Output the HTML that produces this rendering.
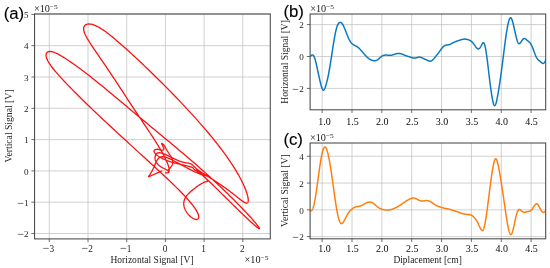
<!DOCTYPE html><html><head><meta charset="utf-8"><title>Figure</title><style>html,body{margin:0;padding:0;background:#fff;overflow:hidden}svg{display:block}</style></head><body><svg width="550" height="268" viewBox="0 0 550 268"><rect width="550" height="268" fill="#fff"/><defs><clipPath id="ca"><rect x="34.57" y="13.95" width="235.70" height="224.95"/></clipPath><clipPath id="cb"><rect x="310.1" y="14.0" width="235.60" height="95.80"/></clipPath><clipPath id="cc"><rect x="310.1" y="143.0" width="235.60" height="95.80"/></clipPath></defs>
<line x1="49.30" x2="49.30" y1="13.95" y2="238.9" stroke="#bdbdbd" stroke-width="0.7"/>
<line x1="49.30" x2="49.30" y1="238.9" y2="242.1" stroke="#484848" stroke-width="0.8"/>
<text x="48.40" y="251.50" font-size="9.3" text-anchor="middle" font-family='"Liberation Serif", serif' fill="#222222" ><tspan font-size="12" dy="0.7">−</tspan><tspan dy="-0.7">3</tspan></text>
<line x1="88.00" x2="88.00" y1="13.95" y2="238.9" stroke="#bdbdbd" stroke-width="0.7"/>
<line x1="88.00" x2="88.00" y1="238.9" y2="242.1" stroke="#484848" stroke-width="0.8"/>
<text x="87.10" y="251.50" font-size="9.3" text-anchor="middle" font-family='"Liberation Serif", serif' fill="#222222" ><tspan font-size="12" dy="0.7">−</tspan><tspan dy="-0.7">2</tspan></text>
<line x1="126.70" x2="126.70" y1="13.95" y2="238.9" stroke="#bdbdbd" stroke-width="0.7"/>
<line x1="126.70" x2="126.70" y1="238.9" y2="242.1" stroke="#484848" stroke-width="0.8"/>
<text x="125.80" y="251.50" font-size="9.3" text-anchor="middle" font-family='"Liberation Serif", serif' fill="#222222" ><tspan font-size="12" dy="0.7">−</tspan><tspan dy="-0.7">1</tspan></text>
<line x1="165.40" x2="165.40" y1="13.95" y2="238.9" stroke="#bdbdbd" stroke-width="0.7"/>
<line x1="165.40" x2="165.40" y1="238.9" y2="242.1" stroke="#484848" stroke-width="0.8"/>
<text x="165.00" y="251.50" font-size="9.3" text-anchor="middle" font-family='"Liberation Serif", serif' fill="#222222" >0</text>
<line x1="204.10" x2="204.10" y1="13.95" y2="238.9" stroke="#bdbdbd" stroke-width="0.7"/>
<line x1="204.10" x2="204.10" y1="238.9" y2="242.1" stroke="#484848" stroke-width="0.8"/>
<text x="203.70" y="251.50" font-size="9.3" text-anchor="middle" font-family='"Liberation Serif", serif' fill="#222222" >1</text>
<line x1="242.80" x2="242.80" y1="13.95" y2="238.9" stroke="#bdbdbd" stroke-width="0.7"/>
<line x1="242.80" x2="242.80" y1="238.9" y2="242.1" stroke="#484848" stroke-width="0.8"/>
<text x="242.40" y="251.50" font-size="9.3" text-anchor="middle" font-family='"Liberation Serif", serif' fill="#222222" >2</text>
<line y1="233.50" y2="233.50" x1="34.57" x2="270.27" stroke="#bdbdbd" stroke-width="0.7"/>
<line y1="233.50" y2="233.50" x1="31.37" x2="34.57" stroke="#484848" stroke-width="0.8"/>
<text x="28.50" y="237.20" font-size="9.1" text-anchor="end" font-family='"Liberation Serif", serif' fill="#222222" ><tspan font-size="12" dy="0.7">−</tspan><tspan dy="-0.7">2</tspan></text>
<line y1="202.20" y2="202.20" x1="34.57" x2="270.27" stroke="#bdbdbd" stroke-width="0.7"/>
<line y1="202.20" y2="202.20" x1="31.37" x2="34.57" stroke="#484848" stroke-width="0.8"/>
<text x="28.50" y="205.90" font-size="9.1" text-anchor="end" font-family='"Liberation Serif", serif' fill="#222222" ><tspan font-size="12" dy="0.7">−</tspan><tspan dy="-0.7">1</tspan></text>
<line y1="170.90" y2="170.90" x1="34.57" x2="270.27" stroke="#bdbdbd" stroke-width="0.7"/>
<line y1="170.90" y2="170.90" x1="31.37" x2="34.57" stroke="#484848" stroke-width="0.8"/>
<text x="28.50" y="174.60" font-size="9.1" text-anchor="end" font-family='"Liberation Serif", serif' fill="#222222" >0</text>
<line y1="139.60" y2="139.60" x1="34.57" x2="270.27" stroke="#bdbdbd" stroke-width="0.7"/>
<line y1="139.60" y2="139.60" x1="31.37" x2="34.57" stroke="#484848" stroke-width="0.8"/>
<text x="28.50" y="143.30" font-size="9.1" text-anchor="end" font-family='"Liberation Serif", serif' fill="#222222" >1</text>
<line y1="108.30" y2="108.30" x1="34.57" x2="270.27" stroke="#bdbdbd" stroke-width="0.7"/>
<line y1="108.30" y2="108.30" x1="31.37" x2="34.57" stroke="#484848" stroke-width="0.8"/>
<text x="28.50" y="112.00" font-size="9.1" text-anchor="end" font-family='"Liberation Serif", serif' fill="#222222" >2</text>
<line y1="77.00" y2="77.00" x1="34.57" x2="270.27" stroke="#bdbdbd" stroke-width="0.7"/>
<line y1="77.00" y2="77.00" x1="31.37" x2="34.57" stroke="#484848" stroke-width="0.8"/>
<text x="28.50" y="80.70" font-size="9.1" text-anchor="end" font-family='"Liberation Serif", serif' fill="#222222" >3</text>
<line y1="45.70" y2="45.70" x1="34.57" x2="270.27" stroke="#bdbdbd" stroke-width="0.7"/>
<line y1="45.70" y2="45.70" x1="31.37" x2="34.57" stroke="#484848" stroke-width="0.8"/>
<text x="28.50" y="49.40" font-size="9.1" text-anchor="end" font-family='"Liberation Serif", serif' fill="#222222" >4</text>
<line y1="14.40" y2="14.40" x1="34.57" x2="270.27" stroke="#bdbdbd" stroke-width="0.7"/>
<line y1="14.40" y2="14.40" x1="31.37" x2="34.57" stroke="#484848" stroke-width="0.8"/>
<text x="28.50" y="18.10" font-size="9.1" text-anchor="end" font-family='"Liberation Serif", serif' fill="#222222" >5</text>
<g clip-path="url(#ca)"><path d="M165.42,172.80 L165.73,172.85 L166.04,172.89 L166.35,172.93 L166.66,172.95 L166.97,172.97 L167.27,172.96 L167.57,172.92 L167.86,172.85 L168.13,172.74 L168.38,172.58 L168.60,172.36 L168.80,172.08 L168.96,171.73 L169.08,171.31 L169.16,170.80 L169.19,170.22 L169.17,169.56 L169.09,168.82 L168.95,168.00 L168.75,167.09 L168.47,166.10 L168.13,165.03 L167.71,163.87 L167.22,162.63 L166.66,161.32 L166.03,159.93 L165.34,158.46 L164.57,156.93 L163.74,155.32 L162.84,153.65 L161.88,151.91 L160.86,150.11 L159.76,148.25 L158.61,146.33 L157.40,144.36 L156.13,142.33 L154.81,140.26 L153.44,138.13 L152.03,135.96 L150.58,133.75 L149.09,131.49 L147.56,129.20 L146.01,126.88 L144.43,124.52 L142.83,122.14 L141.21,119.73 L139.58,117.29 L137.93,114.83 L136.28,112.36 L134.62,109.86 L132.95,107.36 L131.28,104.84 L129.61,102.32 L127.95,99.79 L126.29,97.25 L124.63,94.72 L122.98,92.20 L121.33,89.68 L119.69,87.17 L118.06,84.67 L116.43,82.19 L114.81,79.72 L113.20,77.28 L111.59,74.86 L110.00,72.47 L108.41,70.11 L106.84,67.78 L105.28,65.49 L103.75,63.24 L102.24,61.03 L100.75,58.86 L99.30,56.74 L97.88,54.67 L96.50,52.65 L95.16,50.68 L93.87,48.78 L92.62,46.93 L91.43,45.15 L90.31,43.43 L89.25,41.77 L88.26,40.18 L87.35,38.66 L86.53,37.20 L85.80,35.82 L85.17,34.50 L84.64,33.25 L84.22,32.08 L83.91,30.98 L83.72,29.96 L83.64,29.01 L83.68,28.15 L83.82,27.36 L84.07,26.65 L84.41,26.02 L84.84,25.47 L85.36,25.01 L85.96,24.63 L86.64,24.34 L87.39,24.14 L88.21,24.02 L89.08,23.99 L90.02,24.05 L91.01,24.19 L92.04,24.41 L93.12,24.71 L94.23,25.09 L95.38,25.55 L96.56,26.09 L97.77,26.70 L99.01,27.38 L100.30,28.13 L101.61,28.96 L102.96,29.85 L104.35,30.80 L105.77,31.83 L107.23,32.91 L108.72,34.06 L110.26,35.27 L111.83,36.53 L113.44,37.86 L115.09,39.23 L116.78,40.67 L118.50,42.15 L120.27,43.68 L122.07,45.27 L123.91,46.90 L125.78,48.58 L127.70,50.30 L129.64,52.07 L131.62,53.88 L133.64,55.74 L135.69,57.63 L137.77,59.57 L139.87,61.55 L142.01,63.56 L144.18,65.62 L146.37,67.71 L148.59,69.84 L150.83,72.00 L153.09,74.19 L155.37,76.42 L157.67,78.68 L159.99,80.97 L162.32,83.29 L164.66,85.64 L167.01,88.01 L169.37,90.40 L171.73,92.81 L174.10,95.24 L176.46,97.69 L178.82,100.15 L181.17,102.63 L183.52,105.11 L185.85,107.60 L188.18,110.10 L190.48,112.60 L192.76,115.10 L195.03,117.61 L197.27,120.11 L199.48,122.61 L201.66,125.10 L203.82,127.59 L205.94,130.07 L208.02,132.54 L210.07,135.00 L212.08,137.44 L214.04,139.87 L215.96,142.27 L217.83,144.66 L219.66,147.02 L221.44,149.36 L223.16,151.67 L224.84,153.95 L226.45,156.20 L228.01,158.42 L229.51,160.60 L230.96,162.74 L232.33,164.84 L233.65,166.90 L234.91,168.92 L236.11,170.88 L237.25,172.80 L238.33,174.67 L239.35,176.49 L240.31,178.26 L241.21,179.97 L242.05,181.63 L242.83,183.23 L243.55,184.78 L244.21,186.26 L244.82,187.68 L245.38,189.05 L245.88,190.35 L246.33,191.59 L246.72,192.77 L247.07,193.88 L247.37,194.93 L247.63,195.92 L247.84,196.85 L248.00,197.71 L248.13,198.51 L248.21,199.24 L248.25,199.91 L248.25,200.51 L248.22,201.05 L248.14,201.53 L248.04,201.94 L247.89,202.29 L247.72,202.58 L247.51,202.81 L247.26,202.97 L246.98,203.07 L246.67,203.11 L246.32,203.09 L245.95,203.01 L245.54,202.87 L245.10,202.69 L244.63,202.45 L244.13,202.17 L243.61,201.84 L243.05,201.47 L242.46,201.07 L241.85,200.63 L241.21,200.15 L240.54,199.65 L239.85,199.12 L239.14,198.57 L238.40,198.00 L237.65,197.41 L236.87,196.80 L236.07,196.18 L235.26,195.54 L234.43,194.89 L233.59,194.23 L232.73,193.56 L231.86,192.88 L230.98,192.20 L230.09,191.51 L229.19,190.83 L228.28,190.14 L227.37,189.45 L226.44,188.77 L225.52,188.09 L224.59,187.42 L223.66,186.75 L222.72,186.10 L221.79,185.45 L220.86,184.81 L219.93,184.18 L219.01,183.56 L218.09,182.95 L217.17,182.35 L216.26,181.75 L215.37,181.17 L214.48,180.60 L213.60,180.04 L212.73,179.49 L211.88,178.95 L211.04,178.43 L210.21,177.91 L209.41,177.41 L208.62,176.92 L207.85,176.44 L207.10,175.97 L206.37,175.52 L205.67,175.08 L204.98,174.65 L204.33,174.24 L203.69,173.83 L203.08,173.44 L202.49,173.06 L201.92,172.69 L201.37,172.33 L200.85,171.97 L200.34,171.63 L199.86,171.30 L199.39,170.97 L198.94,170.65 L198.51,170.34 L198.10,170.04 L197.71,169.75 L197.34,169.46 L196.98,169.17 L196.64,168.90 L196.32,168.63 L196.01,168.36 L195.72,168.10 L195.44,167.85 L195.17,167.60 L194.91,167.36 L194.67,167.12 L194.43,166.89 L194.21,166.67 L193.99,166.45 L193.78,166.24 L193.58,166.03 L193.38,165.84 L193.18,165.65 L192.99,165.46 L192.80,165.29 L192.62,165.12 L192.43,164.96 L192.25,164.80 L192.07,164.66 L191.88,164.52 L191.70,164.39 L191.51,164.26 L191.33,164.15 L191.14,164.04 L190.95,163.94 L190.75,163.85 L190.56,163.76 L190.36,163.68 L190.15,163.61 L189.94,163.54 L189.73,163.47 L189.51,163.41 L189.28,163.36 L189.05,163.30 L188.81,163.25 L188.57,163.20 L188.31,163.16 L188.05,163.11 L187.78,163.07 L187.50,163.02 L187.21,162.98 L186.92,162.93 L186.61,162.88 L186.30,162.83 L185.97,162.78 L185.65,162.73 L185.31,162.67 L184.97,162.61 L184.62,162.54 L184.26,162.47 L183.90,162.40 L183.53,162.32 L183.16,162.23 L182.78,162.13 L182.40,162.03 L182.01,161.92 L181.62,161.81 L181.22,161.68 L180.83,161.55 L180.42,161.41 L180.02,161.26 L179.61,161.11 L179.20,160.95 L178.79,160.79 L178.37,160.62 L177.96,160.45 L177.54,160.27 L177.12,160.09 L176.70,159.90 L176.28,159.71 L175.86,159.52 L175.44,159.32 L175.02,159.13 L174.60,158.93 L174.18,158.72 L173.76,158.52 L173.34,158.31 L172.92,158.11 L172.50,157.90 L172.08,157.69 L171.66,157.49 L171.24,157.28 L170.83,157.08 L170.42,156.87 L170.01,156.67 L169.60,156.47 L169.19,156.27 L168.79,156.07 L168.39,155.88 L167.99,155.69 L167.60,155.50 L167.21,155.32 L166.82,155.14 L166.43,154.96 L166.05,154.79 L165.68,154.63 L165.31,154.47 L164.94,154.31 L164.58,154.17 L164.23,154.03 L163.88,153.89 L163.53,153.76 L163.19,153.64 L162.86,153.53 L162.53,153.42 L162.21,153.32 L161.90,153.23 L161.59,153.15 L161.29,153.07 L161.00,153.00 L160.72,152.94 L160.44,152.88 L160.18,152.84 L159.92,152.80 L159.67,152.77 L159.42,152.75 L159.19,152.74 L158.96,152.74 L158.74,152.74 L158.52,152.76 L158.32,152.78 L158.12,152.81 L157.92,152.86 L157.74,152.91 L157.56,152.97 L157.39,153.04 L157.22,153.11 L157.07,153.20 L156.91,153.30 L156.77,153.40 L156.63,153.52 L156.49,153.64 L156.36,153.78 L156.24,153.92 L156.13,154.07 L156.01,154.24 L155.91,154.41 L155.81,154.59 L155.71,154.78 L155.62,154.98 L155.54,155.19 L155.46,155.41 L155.39,155.64 L155.32,155.87 L155.26,156.12 L155.21,156.37 L155.16,156.63 L155.12,156.89 L155.09,157.16 L155.07,157.44 L155.06,157.72 L155.05,158.01 L155.06,158.30 L155.08,158.59 L155.11,158.88 L155.14,159.18 L155.19,159.48 L155.26,159.78 L155.33,160.08 L155.42,160.39 L155.51,160.69 L155.63,160.99 L155.75,161.29 L155.89,161.59 L156.05,161.89 L156.22,162.18 L156.40,162.48 L156.59,162.77 L156.80,163.06 L157.02,163.34 L157.25,163.62 L157.49,163.90 L157.74,164.18 L158.00,164.45 L158.27,164.71 L158.54,164.97 L158.82,165.23 L159.11,165.47 L159.41,165.72 L159.71,165.95 L160.01,166.18 L160.32,166.41 L160.63,166.62 L160.95,166.83 L161.27,167.04 L161.59,167.23 L161.91,167.42 L162.23,167.61 L162.55,167.79 L162.86,167.96 L163.18,168.13 L163.49,168.29 L163.80,168.45 L164.10,168.60 L164.40,168.74 L164.69,168.88 L164.98,169.02 L165.25,169.15 L165.52,169.28 L165.78,169.40 L166.03,169.52 L166.26,169.63 L166.49,169.74 L166.71,169.84 L166.91,169.94 L167.10,170.04 L167.29,170.14 L167.46,170.22 L167.62,170.31 L167.78,170.39 L167.92,170.47 L168.05,170.55 L168.17,170.62 L168.29,170.69 L168.39,170.75 L168.49,170.81 L168.57,170.87 L168.64,170.93 L168.71,170.98 L168.77,171.03 L168.82,171.07 L168.85,171.12 L168.88,171.16 L168.91,171.20 L168.92,171.23 L168.93,171.27 L168.93,171.30 L168.93,171.33 L168.92,171.35 L168.90,171.38 L168.88,171.40 L168.85,171.41 L168.83,171.43 L168.79,171.44 L168.76,171.45 L168.72,171.45 L168.68,171.46 L168.64,171.45 L168.60,171.45 L168.56,171.44 L168.51,171.43 L168.47,171.42 L168.43,171.40 L168.39,171.37 L168.35,171.35 L168.31,171.32 L168.28,171.28 L168.25,171.25 L168.22,171.21 L168.20,171.16 L168.17,171.11 L168.16,171.06 L168.14,171.00 L168.13,170.94 L168.13,170.87 L168.13,170.80 L168.14,170.73 L168.15,170.65 L168.16,170.57 L168.19,170.48 L168.22,170.40 L168.25,170.31 L168.29,170.21 L168.34,170.11 L168.40,170.01 L168.46,169.91 L168.53,169.80 L168.61,169.69 L168.70,169.58 L168.79,169.46 L168.88,169.34 L168.98,169.22 L169.09,169.10 L169.20,168.97 L169.31,168.84 L169.43,168.71 L169.55,168.57 L169.68,168.43 L169.80,168.30 L169.93,168.15 L170.05,168.01 L170.18,167.86 L170.31,167.71 L170.44,167.56 L170.56,167.41 L170.69,167.25 L170.82,167.10 L170.94,166.94 L171.06,166.77 L171.17,166.61 L171.29,166.45 L171.40,166.28 L171.50,166.11 L171.61,165.94 L171.71,165.77 L171.80,165.60 L171.89,165.42 L171.98,165.25 L172.06,165.07 L172.14,164.89 L172.22,164.71 L172.29,164.53 L172.35,164.35 L172.41,164.16 L172.47,163.98 L172.52,163.79 L172.56,163.60 L172.60,163.41 L172.64,163.22 L172.67,163.02 L172.69,162.83 L172.71,162.63 L172.72,162.43 L172.73,162.23 L172.73,162.03 L172.72,161.82 L172.71,161.62 L172.69,161.41 L172.67,161.20 L172.64,160.99 L172.60,160.78 L172.56,160.56 L172.52,160.34 L172.46,160.13 L172.41,159.91 L172.34,159.68 L172.27,159.46 L172.20,159.23 L172.12,159.01 L172.04,158.78 L171.95,158.55 L171.85,158.32 L171.75,158.09 L171.64,157.85 L171.53,157.62 L171.42,157.38 L171.30,157.15 L171.17,156.91 L171.04,156.68 L170.90,156.44 L170.76,156.20 L170.62,155.96 L170.47,155.72 L170.32,155.48 L170.17,155.24 L170.01,155.00 L169.86,154.76 L169.70,154.52 L169.54,154.28 L169.38,154.04 L169.22,153.80 L169.05,153.56 L168.89,153.32 L168.73,153.09 L168.57,152.85 L168.41,152.61 L168.26,152.37 L168.10,152.14 L167.95,151.90 L167.80,151.67 L167.66,151.44 L167.52,151.21 L167.38,150.98 L167.25,150.75 L167.12,150.52 L166.99,150.30 L166.87,150.07 L166.75,149.85 L166.63,149.63 L166.52,149.41 L166.40,149.20 L166.29,148.98 L166.18,148.77 L166.08,148.56 L165.97,148.35 L165.86,148.15 L165.76,147.95 L165.65,147.75 L165.55,147.55 L165.44,147.36 L165.33,147.17 L165.22,146.98 L165.11,146.79 L165.00,146.61 L164.89,146.43 L164.78,146.26 L164.66,146.09 L164.54,145.92 L164.42,145.75 L164.29,145.59 L164.17,145.44 L164.04,145.29 L163.91,145.14 L163.79,144.99 L163.66,144.85 L163.54,144.72 L163.41,144.58 L163.29,144.46 L163.16,144.34 L163.04,144.22 L162.93,144.11 L162.81,144.01 L162.70,143.91 L162.59,143.82 L162.49,143.73 L162.39,143.66 L162.30,143.59 L162.21,143.52 L162.12,143.47 L162.05,143.43 L161.98,143.39 L161.91,143.37 L161.85,143.35 L161.80,143.34 L161.76,143.35 L161.72,143.36 L161.69,143.39 L161.67,143.42 L161.65,143.47 L161.64,143.52 L161.63,143.59 L161.64,143.66 L161.65,143.75 L161.67,143.84 L161.69,143.94 L161.72,144.05 L161.76,144.17 L161.81,144.29 L161.86,144.42 L161.92,144.56 L161.99,144.70 L162.06,144.85 L162.14,145.01 L162.23,145.17 L162.32,145.34 L162.42,145.51 L162.52,145.68 L162.63,145.86 L162.74,146.05 L162.84,146.23 L162.95,146.42 L163.06,146.61 L163.16,146.80 L163.27,146.99 L163.37,147.17 L163.46,147.36 L163.55,147.55 L163.63,147.73 L163.71,147.91 L163.77,148.09 L163.83,148.26 L163.88,148.43 L163.91,148.59 L163.94,148.74 L163.95,148.89 L163.95,149.03 L163.93,149.17 L163.90,149.29 L163.85,149.41 L163.79,149.51 L163.72,149.61 L163.63,149.70 L163.53,149.78 L163.43,149.86 L163.31,149.93 L163.18,149.99 L163.04,150.04 L162.90,150.08 L162.75,150.12 L162.59,150.15 L162.43,150.17 L162.26,150.19 L162.09,150.20 L161.92,150.20 L161.74,150.20 L161.56,150.19 L161.38,150.17 L161.21,150.15 L161.03,150.12 L160.85,150.09 L160.68,150.05 L160.51,150.01 L160.34,149.97 L160.17,149.92 L160.01,149.87 L159.84,149.82 L159.68,149.77 L159.52,149.72 L159.36,149.67 L159.20,149.62 L159.04,149.57 L158.88,149.52 L158.72,149.48 L158.56,149.44 L158.40,149.40 L158.24,149.36 L158.08,149.33 L157.92,149.31 L157.76,149.29 L157.60,149.27 L157.44,149.26 L157.28,149.26 L157.11,149.26 L156.95,149.26 L156.78,149.27 L156.61,149.29 L156.44,149.32 L156.27,149.35 L156.09,149.38 L155.92,149.43 L155.75,149.48 L155.58,149.53 L155.41,149.60 L155.25,149.67 L155.09,149.74 L154.94,149.83 L154.80,149.92 L154.66,150.02 L154.54,150.12 L154.42,150.24 L154.32,150.36 L154.23,150.49 L154.15,150.62 L154.09,150.77 L154.04,150.92 L154.01,151.08 L153.99,151.24 L154.00,151.42 L154.03,151.60 L154.07,151.80 L154.14,151.99 L154.23,152.20 L154.34,152.41 L154.47,152.63 L154.62,152.85 L154.79,153.07 L154.98,153.31 L155.19,153.54 L155.41,153.78 L155.65,154.02 L155.91,154.26 L156.19,154.51 L156.48,154.76 L156.79,155.00 L157.11,155.25 L157.44,155.50 L157.79,155.75 L158.15,156.00 L158.52,156.25 L158.91,156.50 L159.30,156.74 L159.70,156.99 L160.11,157.23 L160.53,157.47 L160.96,157.71 L161.39,157.94 L161.82,158.17 L162.27,158.40 L162.71,158.63 L163.16,158.85 L163.61,159.07 L164.06,159.28 L164.51,159.49 L164.96,159.70 L165.41,159.90 L165.86,160.10 L166.31,160.29 L166.76,160.48 L167.20,160.66 L167.65,160.83 L168.10,161.00 L168.55,161.17 L168.99,161.33 L169.45,161.49 L169.90,161.64 L170.35,161.79 L170.81,161.94 L171.27,162.08 L171.73,162.22 L172.19,162.35 L172.66,162.49 L173.13,162.62 L173.61,162.74 L174.09,162.87 L174.58,163.00 L175.07,163.12 L175.56,163.24 L176.06,163.36 L176.56,163.48 L177.06,163.60 L177.57,163.72 L178.07,163.84 L178.58,163.95 L179.09,164.07 L179.59,164.19 L180.10,164.30 L180.61,164.42 L181.11,164.53 L181.61,164.64 L182.10,164.75 L182.60,164.86 L183.09,164.97 L183.57,165.08 L184.05,165.19 L184.52,165.30 L184.98,165.41 L185.44,165.51 L185.89,165.62 L186.33,165.72 L186.76,165.82 L187.19,165.92 L187.60,166.02 L187.99,166.12 L188.38,166.22 L188.75,166.31 L189.11,166.41 L189.45,166.50 L189.78,166.59 L190.09,166.68 L190.38,166.77 L190.66,166.85 L190.91,166.93 L191.15,167.02 L191.37,167.10 L191.58,167.17 L191.77,167.25 L191.94,167.32 L192.11,167.39 L192.25,167.46 L192.39,167.53 L192.51,167.59 L192.62,167.66 L192.72,167.72 L192.82,167.78 L192.90,167.84 L192.97,167.89 L193.04,167.95 L193.10,168.01 L193.16,168.06 L193.21,168.12 L193.26,168.18 L193.30,168.24 L193.34,168.29 L193.38,168.36 L193.42,168.42 L193.46,168.48 L193.50,168.55 L193.55,168.61 L193.59,168.68 L193.64,168.76 L193.70,168.83 L193.76,168.91 L193.83,168.99 L193.90,169.08 L193.98,169.17 L194.08,169.26 L194.18,169.36 L194.29,169.46 L194.42,169.56 L194.55,169.66 L194.69,169.77 L194.84,169.88 L195.00,169.99 L195.17,170.11 L195.34,170.22 L195.52,170.34 L195.71,170.45 L195.89,170.57 L196.09,170.69 L196.28,170.81 L196.48,170.93 L196.68,171.05 L196.88,171.17 L197.08,171.28 L197.28,171.40 L197.48,171.52 L197.68,171.64 L197.87,171.75 L198.07,171.87 L198.26,171.98 L198.44,172.09 L198.63,172.20 L198.81,172.31 L198.99,172.42 L199.16,172.53 L199.34,172.64 L199.51,172.74 L199.68,172.85 L199.84,172.96 L200.01,173.06 L200.17,173.17 L200.33,173.27 L200.49,173.38 L200.64,173.48 L200.80,173.58 L200.95,173.69 L201.10,173.79 L201.24,173.90 L201.39,174.01 L201.53,174.11 L201.67,174.22 L201.81,174.32 L201.95,174.43 L202.08,174.54 L202.22,174.65 L202.35,174.76 L202.48,174.87 L202.61,174.98 L202.73,175.09 L202.86,175.20 L202.99,175.32 L203.11,175.43 L203.23,175.55 L203.35,175.66 L203.48,175.78 L203.60,175.89 L203.72,176.01 L203.84,176.13 L203.95,176.25 L204.07,176.37 L204.19,176.49 L204.31,176.61 L204.43,176.74 L204.54,176.86 L204.66,176.98 L204.78,177.11 L204.90,177.24 L205.01,177.36 L205.13,177.49 L205.25,177.62 L205.37,177.75 L205.48,177.87 L205.60,178.00 L205.71,178.13 L205.82,178.26 L205.93,178.38 L206.04,178.51 L206.15,178.64 L206.25,178.76 L206.35,178.88 L206.45,179.00 L206.55,179.12 L206.64,179.24 L206.73,179.35 L206.82,179.47 L206.91,179.58 L206.99,179.68 L207.06,179.79 L207.13,179.89 L207.20,179.99 L207.26,180.09 L207.32,180.18 L207.37,180.27 L207.42,180.35 L207.46,180.44 L207.50,180.52 L207.53,180.59 L207.55,180.66 L207.57,180.73 L207.59,180.80 L207.59,180.86 L207.59,180.92 L207.58,180.98 L207.57,181.03 L207.55,181.08 L207.53,181.13 L207.50,181.18 L207.46,181.22 L207.42,181.26 L207.38,181.30 L207.32,181.34 L207.27,181.37 L207.21,181.40 L207.14,181.43 L207.07,181.46 L206.99,181.48 L206.91,181.50 L206.83,181.52 L206.74,181.54 L206.65,181.56 L206.55,181.58 L206.45,181.60 L206.35,181.62 L206.24,181.64 L206.13,181.66 L206.02,181.69 L205.90,181.71 L205.77,181.74 L205.64,181.78 L205.51,181.81 L205.37,181.86 L205.22,181.90 L205.06,181.95 L204.90,182.01 L204.73,182.07 L204.55,182.14 L204.37,182.22 L204.17,182.30 L203.97,182.39 L203.75,182.49 L203.52,182.60 L203.29,182.72 L203.04,182.85 L202.78,182.98 L202.50,183.13 L202.22,183.29 L201.92,183.45 L201.61,183.63 L201.29,183.82 L200.95,184.02 L200.60,184.23 L200.24,184.45 L199.86,184.68 L199.48,184.92 L199.08,185.18 L198.68,185.45 L198.26,185.73 L197.83,186.02 L197.40,186.33 L196.95,186.65 L196.50,186.98 L196.03,187.32 L195.56,187.67 L195.08,188.04 L194.59,188.41 L194.09,188.80 L193.59,189.19 L193.08,189.60 L192.56,190.01 L192.05,190.43 L191.53,190.87 L191.01,191.31 L190.49,191.76 L189.98,192.22 L189.48,192.69 L188.99,193.17 L188.50,193.66 L188.03,194.16 L187.57,194.67 L187.13,195.19 L186.71,195.72 L186.30,196.27 L185.92,196.83 L185.57,197.41 L185.24,197.99 L184.93,198.60 L184.66,199.22 L184.42,199.85 L184.22,200.50 L184.04,201.17 L183.91,201.86 L183.82,202.55 L183.77,203.27 L183.76,203.99 L183.80,204.72 L183.89,205.47 L184.02,206.22 L184.20,206.97 L184.43,207.74 L184.70,208.50 L185.01,209.26 L185.36,210.02 L185.75,210.78 L186.18,211.52 L186.64,212.25 L187.13,212.96 L187.66,213.66 L188.22,214.33 L188.81,214.98 L189.42,215.60 L190.06,216.19 L190.72,216.74 L191.40,217.26 L192.10,217.74 L192.79,218.17 L193.48,218.56 L194.16,218.89 L194.83,219.15 L195.46,219.35 L196.07,219.46 L196.63,219.49 L197.15,219.42 L197.61,219.24 L198.00,218.96 L198.32,218.57 L198.56,218.07 L198.70,217.46 L198.73,216.75 L198.65,215.94 L198.45,215.02 L198.10,214.00 L197.62,212.88 L197.00,211.67 L196.25,210.35 L195.36,208.95 L194.34,207.46 L193.18,205.88 L191.90,204.22 L190.48,202.48 L188.94,200.67 L187.28,198.78 L185.51,196.82 L183.62,194.80 L181.62,192.71 L179.52,190.56 L177.32,188.35 L175.03,186.09 L172.64,183.77 L170.18,181.40 L167.64,178.99 L165.02,176.53 L162.34,174.03 L159.60,171.49 L156.81,168.91 L153.96,166.31 L151.08,163.67 L148.16,161.00 L145.21,158.31 L142.24,155.60 L139.25,152.87 L136.24,150.13 L133.23,147.38 L130.21,144.62 L127.19,141.85 L124.17,139.09 L121.17,136.33 L118.17,133.57 L115.20,130.82 L112.25,128.08 L109.32,125.35 L106.42,122.64 L103.55,119.94 L100.71,117.26 L97.91,114.60 L95.14,111.97 L92.41,109.36 L89.72,106.77 L87.08,104.22 L84.48,101.69 L81.93,99.20 L79.44,96.75 L77.01,94.33 L74.63,91.95 L72.32,89.62 L70.07,87.32 L67.89,85.08 L65.79,82.88 L63.76,80.73 L61.82,78.63 L59.95,76.58 L58.18,74.59 L56.49,72.67 L54.91,70.80 L53.44,68.99 L52.08,67.25 L50.84,65.58 L49.73,63.98 L48.75,62.45 L47.91,61.00 L47.22,59.63 L46.69,58.34 L46.31,57.14 L46.10,56.04 L46.05,55.04 L46.14,54.15 L46.39,53.38 L46.77,52.73 L47.29,52.20 L47.94,51.81 L48.71,51.56 L49.59,51.46 L50.59,51.50 L51.70,51.68 L52.91,51.99 L54.21,52.43 L55.59,52.99 L57.07,53.66 L58.62,54.44 L60.24,55.32 L61.92,56.30 L63.67,57.36 L65.48,58.50 L67.34,59.72 L69.25,61.01 L71.21,62.36 L73.22,63.76 L75.28,65.23 L77.37,66.74 L79.51,68.31 L81.68,69.93 L83.88,71.59 L86.11,73.30 L88.38,75.06 L90.67,76.85 L92.98,78.68 L95.33,80.55 L97.70,82.46 L100.10,84.40 L102.51,86.37 L104.96,88.37 L107.42,90.39 L109.91,92.45 L112.42,94.53 L114.95,96.64 L117.50,98.77 L120.08,100.92 L122.67,103.09 L125.28,105.28 L127.92,107.49 L130.57,109.71 L133.24,111.95 L135.94,114.21 L138.65,116.48 L141.39,118.76 L144.14,121.06 L146.91,123.36 L149.70,125.68 L152.51,128.00 L155.32,130.33 L158.15,132.67 L160.99,135.02 L163.83,137.38 L166.68,139.74 L169.54,142.11 L172.39,144.48 L175.24,146.86 L178.09,149.25 L180.93,151.64 L183.77,154.03 L186.59,156.42 L189.39,158.82 L192.17,161.21 L194.93,163.61 L197.67,166.00 L200.38,168.39 L203.06,170.76 L205.70,173.13 L208.30,175.49 L210.87,177.83 L213.39,180.15 L215.87,182.46 L218.30,184.74 L220.68,187.00 L223.01,189.22 L225.29,191.41 L227.51,193.57 L229.67,195.69 L231.77,197.77 L233.82,199.80 L235.80,201.79 L237.71,203.73 L239.57,205.62 L241.35,207.45 L243.06,209.23 L244.71,210.95 L246.28,212.62 L247.78,214.22 L249.20,215.76 L250.54,217.23 L251.79,218.63 L252.96,219.96 L254.04,221.20 L255.03,222.37 L255.93,223.45 L256.73,224.44 L257.43,225.34 L258.03,226.14 L258.52,226.84 L258.91,227.43 L259.19,227.92 L259.36,228.29 L259.41,228.55 L259.35,228.68 L259.16,228.70 L258.87,228.59 L258.46,228.35 L257.95,228.01 L257.34,227.55 L256.63,226.99 L255.83,226.33 L254.95,225.58 L253.98,224.73 L252.94,223.80 L251.83,222.79 L250.64,221.70 L249.40,220.55 L248.09,219.33 L246.73,218.04 L245.33,216.71 L243.87,215.32 L242.38,213.89 L240.86,212.42 L239.30,210.91 L237.72,209.37 L236.11,207.81 L234.49,206.23 L232.86,204.63 L231.21,203.02 L229.57,201.40 L227.93,199.79 L226.29,198.17 L224.66,196.57 L223.05,194.98 L221.46,193.41 L219.89,191.86 L218.34,190.33 L216.83,188.84 L215.34,187.38 L213.89,185.96 L212.47,184.59 L211.10,183.26 L209.76,181.99 L208.47,180.77 L207.23,179.60 L206.04,178.50 L204.90,177.46 L203.82,176.48 L202.79,175.57 L201.83,174.73 L200.93,173.95 L200.10,173.25 L199.35,172.62 L198.67,172.06 L198.07,171.57 L197.56,171.15 L197.13,170.80 L196.80,170.51 L196.56,170.28 L196.42,170.12 L196.37,170.01 L196.42,169.96 L196.55,169.96 L196.75,170.02 L197.02,170.12 L197.34,170.26 L197.72,170.44 L198.14,170.65 L198.60,170.89 L199.09,171.16 L199.61,171.44 L200.13,171.74 L200.67,172.05 L201.21,172.37 L201.75,172.68 L202.30,173.00 L202.84,173.31 L203.38,173.60 L203.91,173.90 L204.42,174.18 L204.93,174.45 L205.42,174.71 L205.88,174.96 L206.33,175.19 L206.75,175.42 L207.15,175.62 L207.51,175.82 L207.84,176.00 L208.13,176.16 L208.38,176.30 L208.59,176.43 L208.76,176.53 L208.88,176.62 L208.96,176.68 L209.00,176.73 L209.00,176.75 L208.96,176.75 L208.89,176.74 L208.79,176.70 L208.65,176.66 L208.49,176.59 L208.31,176.52 L208.10,176.44 L207.87,176.35 L207.62,176.25 L207.36,176.14 L207.08,176.04 L206.79,175.93 L206.49,175.82 L206.19,175.71 L205.87,175.61 L205.56,175.51 L205.24,175.42 L204.93,175.33 L204.62,175.25 L204.31,175.18 L204.02,175.10 L203.73,175.04 L203.45,174.97 L203.17,174.90 L202.90,174.84 L202.62,174.77 L202.35,174.70 L202.07,174.63 L201.79,174.56 L201.50,174.47 L201.21,174.39 L200.90,174.29 L200.58,174.19 L200.25,174.08 L199.89,173.95 L199.53,173.82 L199.14,173.67 L198.73,173.51 L198.29,173.34 L197.83,173.15 L197.34,172.95 L196.82,172.72 L196.27,172.48 L195.70,172.22 L195.09,171.95 L194.46,171.65 L193.80,171.34 L193.11,171.01 L192.39,170.66 L191.65,170.30 L190.88,169.91 L190.09,169.51 L189.27,169.08 L188.43,168.64 L187.56,168.18 L186.68,167.71 L185.77,167.22 L184.85,166.72 L183.91,166.20 L182.96,165.69 L182.00,165.16 L181.03,164.63 L180.05,164.10 L179.07,163.57 L178.09,163.04 L177.10,162.51 L176.12,161.99 L175.14,161.48 L174.18,160.97 L173.21,160.48 L172.27,160.00 L171.33,159.54 L170.41,159.10 L169.51,158.68 L168.63,158.30 L167.77,157.94 L166.94,157.62 L166.13,157.34 L165.36,157.10 L164.61,156.92 L163.90,156.78 L163.21,156.69 L162.56,156.67 L161.93,156.70 L161.34,156.80 L160.78,156.96 L160.25,157.17 L159.75,157.44 L159.28,157.76 L158.84,158.12 L158.42,158.53 L158.02,158.97 L157.64,159.46 L157.28,159.97 L156.94,160.52 L156.61,161.09 L156.29,161.69 L155.99,162.31 L155.69,162.94 L155.40,163.59 L155.11,164.25 L154.83,164.92 L154.55,165.59 L154.27,166.27 L153.99,166.94 L153.70,167.61 L153.40,168.27 L153.10,168.93 L152.80,169.56 L152.49,170.19 L152.18,170.79 L151.87,171.37 L151.56,171.93 L151.26,172.46 L150.96,172.97 L150.66,173.46 L150.37,173.91 L150.09,174.33 L149.82,174.73 L149.56,175.09 L149.32,175.42 L149.10,175.71 L148.91,175.97 L148.76,176.18 L148.64,176.36 L148.56,176.50 L148.53,176.60 L148.55,176.65 L148.62,176.67 L148.76,176.64 L148.96,176.58 L149.24,176.49 L149.57,176.36 L149.98,176.19 L150.44,176.00 L150.96,175.77 L151.54,175.52 L152.18,175.24 L152.86,174.94 L153.60,174.61 L154.38,174.26 L155.21,173.90 L156.07,173.51 L156.96,173.11 L157.89,172.70 L158.83,172.28 L159.79,171.84 L160.75,171.41 L161.73,170.97" fill="none" stroke="#ff1010" stroke-width="1.3" stroke-linejoin="round" stroke-linecap="round"/></g>
<rect x="34.57" y="13.95" width="235.70" height="224.95" fill="none" stroke="#484848" stroke-width="1.05"/>
<text x="33.90" y="11.80" font-size="9.6" font-family='"Liberation Serif", serif' fill="#222222" textLength="23.8" lengthAdjust="spacingAndGlyphs">×10<tspan dy="-3.1" font-size="6.91">−5</tspan></text>
<text x="244.60" y="262.70" font-size="9.6" font-family='"Liberation Serif", serif' fill="#222222" textLength="23.8" lengthAdjust="spacingAndGlyphs">×10<tspan dy="-3.1" font-size="6.91">−5</tspan></text>
<text x="152.00" y="263.00" font-size="9.7" text-anchor="middle" font-family='"Liberation Serif", serif' fill="#222222" textLength="83.2" lengthAdjust="spacingAndGlyphs" >Horizontal Signal [V]</text>
<text x="0.00" y="0.00" font-size="9.7" text-anchor="middle" font-family='"Liberation Serif", serif' fill="#222222" textLength="72.8" lengthAdjust="spacingAndGlyphs" transform="translate(12.4,126.0) rotate(-90)">Vertical Signal [V]</text>
<text x="3.70" y="19.20" font-size="16.8" text-anchor="start" font-family='"Liberation Sans", sans-serif' fill="#000" stroke="#000" stroke-width="0.12">(a)</text>
<line x1="322.15" x2="322.15" y1="14.0" y2="109.8" stroke="#bdbdbd" stroke-width="0.7"/>
<line x1="322.15" x2="322.15" y1="109.8" y2="113.0" stroke="#484848" stroke-width="0.8"/>
<text x="324.55" y="124.90" font-size="10" text-anchor="middle" font-family='"Liberation Serif", serif' fill="#0a0a0a" >1.0</text>
<line x1="352.00" x2="352.00" y1="14.0" y2="109.8" stroke="#bdbdbd" stroke-width="0.7"/>
<line x1="352.00" x2="352.00" y1="109.8" y2="113.0" stroke="#484848" stroke-width="0.8"/>
<text x="352.50" y="124.90" font-size="10" text-anchor="middle" font-family='"Liberation Serif", serif' fill="#0a0a0a" >1.5</text>
<line x1="381.85" x2="381.85" y1="14.0" y2="109.8" stroke="#bdbdbd" stroke-width="0.7"/>
<line x1="381.85" x2="381.85" y1="109.8" y2="113.0" stroke="#484848" stroke-width="0.8"/>
<text x="382.35" y="124.90" font-size="10" text-anchor="middle" font-family='"Liberation Serif", serif' fill="#0a0a0a" >2.0</text>
<line x1="411.70" x2="411.70" y1="14.0" y2="109.8" stroke="#bdbdbd" stroke-width="0.7"/>
<line x1="411.70" x2="411.70" y1="109.8" y2="113.0" stroke="#484848" stroke-width="0.8"/>
<text x="412.20" y="124.90" font-size="10" text-anchor="middle" font-family='"Liberation Serif", serif' fill="#0a0a0a" >2.5</text>
<line x1="441.55" x2="441.55" y1="14.0" y2="109.8" stroke="#bdbdbd" stroke-width="0.7"/>
<line x1="441.55" x2="441.55" y1="109.8" y2="113.0" stroke="#484848" stroke-width="0.8"/>
<text x="442.05" y="124.90" font-size="10" text-anchor="middle" font-family='"Liberation Serif", serif' fill="#0a0a0a" >3.0</text>
<line x1="471.40" x2="471.40" y1="14.0" y2="109.8" stroke="#bdbdbd" stroke-width="0.7"/>
<line x1="471.40" x2="471.40" y1="109.8" y2="113.0" stroke="#484848" stroke-width="0.8"/>
<text x="471.90" y="124.90" font-size="10" text-anchor="middle" font-family='"Liberation Serif", serif' fill="#0a0a0a" >3.5</text>
<line x1="501.25" x2="501.25" y1="14.0" y2="109.8" stroke="#bdbdbd" stroke-width="0.7"/>
<line x1="501.25" x2="501.25" y1="109.8" y2="113.0" stroke="#484848" stroke-width="0.8"/>
<text x="501.75" y="124.90" font-size="10" text-anchor="middle" font-family='"Liberation Serif", serif' fill="#0a0a0a" >4.0</text>
<line x1="531.10" x2="531.10" y1="14.0" y2="109.8" stroke="#bdbdbd" stroke-width="0.7"/>
<line x1="531.10" x2="531.10" y1="109.8" y2="113.0" stroke="#484848" stroke-width="0.8"/>
<text x="531.60" y="124.90" font-size="10" text-anchor="middle" font-family='"Liberation Serif", serif' fill="#0a0a0a" >4.5</text>
<line y1="88.40" y2="88.40" x1="310.1" x2="545.7" stroke="#bdbdbd" stroke-width="0.7"/>
<line y1="88.40" y2="88.40" x1="306.90000000000003" x2="310.1" stroke="#484848" stroke-width="0.8"/>
<text x="303.70" y="92.10" font-size="9.1" text-anchor="end" font-family='"Liberation Serif", serif' fill="#222222" ><tspan font-size="12" dy="0.7">−</tspan><tspan dy="-0.7">2</tspan></text>
<line y1="56.50" y2="56.50" x1="310.1" x2="545.7" stroke="#bdbdbd" stroke-width="0.7"/>
<line y1="56.50" y2="56.50" x1="306.90000000000003" x2="310.1" stroke="#484848" stroke-width="0.8"/>
<text x="303.70" y="60.20" font-size="9.1" text-anchor="end" font-family='"Liberation Serif", serif' fill="#222222" >0</text>
<line y1="24.60" y2="24.60" x1="310.1" x2="545.7" stroke="#bdbdbd" stroke-width="0.7"/>
<line y1="24.60" y2="24.60" x1="306.90000000000003" x2="310.1" stroke="#484848" stroke-width="0.8"/>
<text x="303.70" y="28.30" font-size="9.1" text-anchor="end" font-family='"Liberation Serif", serif' fill="#222222" >2</text>
<g clip-path="url(#cb)"><path d="M310.03,56.49 L310.18,56.36 L310.33,56.24 L310.47,56.11 L310.62,55.98 L310.77,55.85 L310.92,55.73 L311.07,55.60 L311.21,55.49 L311.36,55.37 L311.51,55.27 L311.66,55.18 L311.80,55.10 L311.95,55.03 L312.10,54.98 L312.25,54.95 L312.40,54.94 L312.54,54.95 L312.69,54.98 L312.84,55.04 L312.99,55.12 L313.13,55.23 L313.28,55.38 L313.43,55.55 L313.58,55.75 L313.73,55.98 L313.87,56.24 L314.02,56.53 L314.17,56.84 L314.32,57.18 L314.47,57.55 L314.61,57.95 L314.76,58.37 L314.91,58.82 L315.06,59.30 L315.20,59.80 L315.35,60.32 L315.50,60.86 L315.65,61.43 L315.80,62.01 L315.94,62.61 L316.09,63.22 L316.24,63.85 L316.39,64.49 L316.53,65.14 L316.68,65.80 L316.83,66.47 L316.98,67.14 L317.13,67.82 L317.27,68.50 L317.42,69.19 L317.57,69.87 L317.72,70.56 L317.86,71.25 L318.01,71.94 L318.16,72.62 L318.31,73.30 L318.46,73.98 L318.60,74.66 L318.75,75.34 L318.90,76.01 L319.05,76.68 L319.20,77.35 L319.34,78.02 L319.49,78.68 L319.64,79.33 L319.79,79.99 L319.93,80.64 L320.08,81.28 L320.23,81.91 L320.38,82.53 L320.53,83.14 L320.67,83.74 L320.82,84.33 L320.97,84.90 L321.12,85.45 L321.26,85.98 L321.41,86.50 L321.56,86.99 L321.71,87.45 L321.86,87.89 L322.00,88.29 L322.15,88.67 L322.30,89.00 L322.45,89.31 L322.59,89.57 L322.74,89.79 L322.89,89.96 L323.04,90.09 L323.19,90.17 L323.33,90.20 L323.48,90.18 L323.63,90.12 L323.78,90.02 L323.93,89.88 L324.07,89.70 L324.22,89.49 L324.37,89.24 L324.52,88.96 L324.66,88.65 L324.81,88.32 L324.96,87.95 L325.11,87.57 L325.26,87.16 L325.40,86.73 L325.55,86.29 L325.70,85.83 L325.85,85.36 L325.99,84.87 L326.14,84.37 L326.29,83.86 L326.44,83.33 L326.59,82.79 L326.73,82.23 L326.88,81.66 L327.03,81.08 L327.18,80.48 L327.32,79.86 L327.47,79.23 L327.62,78.58 L327.77,77.92 L327.92,77.24 L328.06,76.54 L328.21,75.83 L328.36,75.10 L328.51,74.36 L328.66,73.60 L328.80,72.83 L328.95,72.04 L329.10,71.24 L329.25,70.42 L329.39,69.59 L329.54,68.75 L329.69,67.89 L329.84,67.02 L329.99,66.14 L330.13,65.25 L330.28,64.34 L330.43,63.43 L330.58,62.51 L330.72,61.57 L330.87,60.63 L331.02,59.68 L331.17,58.73 L331.32,57.77 L331.46,56.80 L331.61,55.84 L331.76,54.86 L331.91,53.89 L332.05,52.92 L332.20,51.94 L332.35,50.97 L332.50,50.00 L332.65,49.03 L332.79,48.07 L332.94,47.11 L333.09,46.16 L333.24,45.22 L333.39,44.29 L333.53,43.37 L333.68,42.45 L333.83,41.55 L333.98,40.67 L334.12,39.79 L334.27,38.93 L334.42,38.09 L334.57,37.26 L334.72,36.45 L334.86,35.66 L335.01,34.89 L335.16,34.14 L335.31,33.40 L335.45,32.69 L335.60,32.00 L335.75,31.34 L335.90,30.69 L336.05,30.08 L336.19,29.48 L336.34,28.91 L336.49,28.37 L336.64,27.85 L336.78,27.36 L336.93,26.89 L337.08,26.44 L337.23,26.02 L337.38,25.63 L337.52,25.26 L337.67,24.91 L337.82,24.59 L337.97,24.29 L338.12,24.02 L338.26,23.77 L338.41,23.54 L338.56,23.33 L338.71,23.15 L338.85,22.98 L339.00,22.84 L339.15,22.71 L339.30,22.61 L339.45,22.52 L339.59,22.46 L339.74,22.40 L339.89,22.37 L340.04,22.35 L340.18,22.35 L340.33,22.37 L340.48,22.40 L340.63,22.44 L340.78,22.50 L340.92,22.57 L341.07,22.66 L341.22,22.76 L341.37,22.88 L341.51,23.01 L341.66,23.15 L341.81,23.30 L341.96,23.47 L342.11,23.65 L342.25,23.84 L342.40,24.05 L342.55,24.27 L342.70,24.50 L342.85,24.74 L342.99,24.99 L343.14,25.26 L343.29,25.53 L343.44,25.82 L343.58,26.11 L343.73,26.41 L343.88,26.72 L344.03,27.04 L344.18,27.37 L344.32,27.71 L344.47,28.05 L344.62,28.40 L344.77,28.75 L344.91,29.11 L345.06,29.47 L345.21,29.84 L345.36,30.21 L345.51,30.58 L345.65,30.96 L345.80,31.34 L345.95,31.72 L346.10,32.11 L346.24,32.49 L346.39,32.87 L346.54,33.26 L346.69,33.64 L346.84,34.02 L346.98,34.41 L347.13,34.79 L347.28,35.16 L347.43,35.54 L347.58,35.91 L347.72,36.27 L347.87,36.64 L348.02,36.99 L348.17,37.34 L348.31,37.69 L348.46,38.03 L348.61,38.36 L348.76,38.69 L348.91,39.01 L349.05,39.31 L349.20,39.61 L349.35,39.90 L349.50,40.19 L349.64,40.46 L349.79,40.72 L349.94,40.97 L350.09,41.21 L350.24,41.45 L350.38,41.67 L350.53,41.89 L350.68,42.10 L350.83,42.30 L350.97,42.49 L351.12,42.68 L351.27,42.85 L351.42,43.02 L351.57,43.18 L351.71,43.34 L351.86,43.48 L352.01,43.62 L352.16,43.76 L352.31,43.88 L352.45,44.01 L352.60,44.12 L352.75,44.23 L352.90,44.34 L353.04,44.44 L353.19,44.53 L353.34,44.63 L353.49,44.72 L353.64,44.80 L353.78,44.89 L353.93,44.97 L354.08,45.05 L354.23,45.13 L354.37,45.21 L354.52,45.28 L354.67,45.36 L354.82,45.43 L354.97,45.51 L355.11,45.59 L355.26,45.66 L355.41,45.74 L355.56,45.81 L355.70,45.89 L355.85,45.97 L356.00,46.05 L356.15,46.13 L356.30,46.21 L356.44,46.30 L356.59,46.39 L356.74,46.47 L356.89,46.56 L357.04,46.66 L357.18,46.75 L357.33,46.85 L357.48,46.95 L357.63,47.06 L357.77,47.16 L357.92,47.28 L358.07,47.39 L358.22,47.51 L358.37,47.63 L358.51,47.76 L358.66,47.89 L358.81,48.02 L358.96,48.16 L359.10,48.29 L359.25,48.44 L359.40,48.58 L359.55,48.73 L359.70,48.88 L359.84,49.03 L359.99,49.18 L360.14,49.34 L360.29,49.49 L360.43,49.65 L360.58,49.82 L360.73,49.98 L360.88,50.14 L361.03,50.31 L361.17,50.48 L361.32,50.64 L361.47,50.81 L361.62,50.98 L361.77,51.15 L361.91,51.32 L362.06,51.50 L362.21,51.67 L362.36,51.84 L362.50,52.01 L362.65,52.19 L362.80,52.36 L362.95,52.53 L363.10,52.71 L363.24,52.88 L363.39,53.06 L363.54,53.23 L363.69,53.40 L363.83,53.58 L363.98,53.75 L364.13,53.92 L364.28,54.09 L364.43,54.26 L364.57,54.43 L364.72,54.60 L364.87,54.77 L365.02,54.94 L365.16,55.10 L365.31,55.27 L365.46,55.43 L365.61,55.59 L365.76,55.76 L365.90,55.92 L366.05,56.07 L366.20,56.23 L366.35,56.38 L366.50,56.54 L366.64,56.69 L366.79,56.84 L366.94,56.98 L367.09,57.13 L367.23,57.27 L367.38,57.41 L367.53,57.55 L367.68,57.68 L367.83,57.81 L367.97,57.94 L368.12,58.07 L368.27,58.19 L368.42,58.31 L368.56,58.43 L368.71,58.54 L368.86,58.65 L369.01,58.76 L369.16,58.86 L369.30,58.96 L369.45,59.06 L369.60,59.16 L369.75,59.25 L369.89,59.33 L370.04,59.42 L370.19,59.50 L370.34,59.58 L370.49,59.66 L370.63,59.73 L370.78,59.80 L370.93,59.87 L371.08,59.94 L371.23,60.00 L371.37,60.06 L371.52,60.12 L371.67,60.17 L371.82,60.22 L371.96,60.27 L372.11,60.32 L372.26,60.37 L372.41,60.41 L372.56,60.45 L372.70,60.49 L372.85,60.53 L373.00,60.56 L373.15,60.60 L373.29,60.63 L373.44,60.65 L373.59,60.68 L373.74,60.70 L373.89,60.72 L374.03,60.74 L374.18,60.75 L374.33,60.76 L374.48,60.76 L374.62,60.76 L374.77,60.76 L374.92,60.75 L375.07,60.74 L375.22,60.73 L375.36,60.71 L375.51,60.68 L375.66,60.65 L375.81,60.62 L375.96,60.57 L376.10,60.53 L376.25,60.48 L376.40,60.42 L376.55,60.35 L376.69,60.28 L376.84,60.21 L376.99,60.13 L377.14,60.04 L377.29,59.95 L377.43,59.86 L377.58,59.76 L377.73,59.66 L377.88,59.55 L378.02,59.44 L378.17,59.33 L378.32,59.21 L378.47,59.09 L378.62,58.97 L378.76,58.85 L378.91,58.72 L379.06,58.59 L379.21,58.46 L379.35,58.33 L379.50,58.20 L379.65,58.07 L379.80,57.94 L379.95,57.81 L380.09,57.68 L380.24,57.55 L380.39,57.42 L380.54,57.29 L380.69,57.16 L380.83,57.03 L380.98,56.91 L381.13,56.79 L381.28,56.67 L381.42,56.56 L381.57,56.45 L381.72,56.34 L381.87,56.24 L382.02,56.14 L382.16,56.05 L382.31,55.96 L382.46,55.88 L382.61,55.80 L382.75,55.72 L382.90,55.65 L383.05,55.58 L383.20,55.52 L383.35,55.46 L383.49,55.41 L383.64,55.36 L383.79,55.31 L383.94,55.27 L384.08,55.23 L384.23,55.19 L384.38,55.16 L384.53,55.14 L384.68,55.11 L384.82,55.09 L384.97,55.08 L385.12,55.06 L385.27,55.05 L385.42,55.05 L385.56,55.05 L385.71,55.04 L385.86,55.05 L386.01,55.05 L386.15,55.06 L386.30,55.07 L386.45,55.08 L386.60,55.09 L386.75,55.10 L386.89,55.12 L387.04,55.13 L387.19,55.15 L387.34,55.16 L387.48,55.18 L387.63,55.20 L387.78,55.22 L387.93,55.23 L388.08,55.25 L388.22,55.27 L388.37,55.28 L388.52,55.30 L388.67,55.31 L388.81,55.33 L388.96,55.34 L389.11,55.35 L389.26,55.36 L389.41,55.36 L389.55,55.37 L389.70,55.37 L389.85,55.37 L390.00,55.37 L390.15,55.37 L390.29,55.37 L390.44,55.36 L390.59,55.35 L390.74,55.34 L390.88,55.32 L391.03,55.31 L391.18,55.29 L391.33,55.26 L391.48,55.24 L391.62,55.21 L391.77,55.18 L391.92,55.14 L392.07,55.10 L392.21,55.06 L392.36,55.02 L392.51,54.98 L392.66,54.93 L392.81,54.89 L392.95,54.84 L393.10,54.79 L393.25,54.74 L393.40,54.69 L393.55,54.63 L393.69,54.58 L393.84,54.53 L393.99,54.48 L394.14,54.42 L394.28,54.37 L394.43,54.32 L394.58,54.27 L394.73,54.22 L394.88,54.17 L395.02,54.12 L395.17,54.07 L395.32,54.03 L395.47,53.98 L395.61,53.94 L395.76,53.90 L395.91,53.86 L396.06,53.82 L396.21,53.79 L396.35,53.75 L396.50,53.72 L396.65,53.69 L396.80,53.66 L396.94,53.64 L397.09,53.61 L397.24,53.59 L397.39,53.57 L397.54,53.55 L397.68,53.53 L397.83,53.52 L397.98,53.51 L398.13,53.50 L398.28,53.49 L398.42,53.48 L398.57,53.48 L398.72,53.48 L398.87,53.48 L399.01,53.49 L399.16,53.50 L399.31,53.51 L399.46,53.52 L399.61,53.53 L399.75,53.55 L399.90,53.57 L400.05,53.59 L400.20,53.61 L400.34,53.64 L400.49,53.67 L400.64,53.70 L400.79,53.73 L400.94,53.77 L401.08,53.80 L401.23,53.84 L401.38,53.88 L401.53,53.93 L401.67,53.97 L401.82,54.02 L401.97,54.07 L402.12,54.12 L402.27,54.18 L402.41,54.23 L402.56,54.29 L402.71,54.35 L402.86,54.41 L403.01,54.47 L403.15,54.53 L403.30,54.60 L403.45,54.66 L403.60,54.73 L403.74,54.79 L403.89,54.86 L404.04,54.93 L404.19,54.99 L404.34,55.06 L404.48,55.13 L404.63,55.19 L404.78,55.26 L404.93,55.32 L405.07,55.39 L405.22,55.45 L405.37,55.51 L405.52,55.57 L405.67,55.63 L405.81,55.68 L405.96,55.74 L406.11,55.79 L406.26,55.84 L406.40,55.89 L406.55,55.94 L406.70,55.99 L406.85,56.04 L407.00,56.09 L407.14,56.13 L407.29,56.18 L407.44,56.22 L407.59,56.27 L407.74,56.31 L407.88,56.35 L408.03,56.40 L408.18,56.44 L408.33,56.48 L408.47,56.53 L408.62,56.57 L408.77,56.62 L408.92,56.66 L409.07,56.71 L409.21,56.76 L409.36,56.81 L409.51,56.86 L409.66,56.91 L409.80,56.96 L409.95,57.01 L410.10,57.06 L410.25,57.11 L410.40,57.16 L410.54,57.22 L410.69,57.27 L410.84,57.32 L410.99,57.37 L411.13,57.42 L411.28,57.47 L411.43,57.52 L411.58,57.57 L411.73,57.61 L411.87,57.66 L412.02,57.70 L412.17,57.74 L412.32,57.78 L412.47,57.82 L412.61,57.85 L412.76,57.88 L412.91,57.91 L413.06,57.94 L413.20,57.96 L413.35,57.98 L413.50,58.00 L413.65,58.02 L413.80,58.03 L413.94,58.04 L414.09,58.05 L414.24,58.05 L414.39,58.05 L414.53,58.05 L414.68,58.05 L414.83,58.04 L414.98,58.03 L415.13,58.02 L415.27,58.00 L415.42,57.98 L415.57,57.96 L415.72,57.93 L415.86,57.91 L416.01,57.88 L416.16,57.84 L416.31,57.81 L416.46,57.77 L416.60,57.73 L416.75,57.69 L416.90,57.64 L417.05,57.60 L417.20,57.55 L417.34,57.51 L417.49,57.46 L417.64,57.42 L417.79,57.38 L417.93,57.34 L418.08,57.30 L418.23,57.26 L418.38,57.23 L418.53,57.20 L418.67,57.17 L418.82,57.15 L418.97,57.13 L419.12,57.11 L419.26,57.10 L419.41,57.10 L419.56,57.10 L419.71,57.10 L419.86,57.12 L420.00,57.14 L420.15,57.16 L420.30,57.19 L420.45,57.23 L420.59,57.27 L420.74,57.31 L420.89,57.36 L421.04,57.42 L421.19,57.47 L421.33,57.53 L421.48,57.59 L421.63,57.66 L421.78,57.73 L421.93,57.79 L422.07,57.86 L422.22,57.94 L422.37,58.01 L422.52,58.08 L422.66,58.16 L422.81,58.23 L422.96,58.30 L423.11,58.37 L423.26,58.44 L423.40,58.52 L423.55,58.58 L423.70,58.65 L423.85,58.72 L423.99,58.79 L424.14,58.86 L424.29,58.92 L424.44,58.99 L424.59,59.06 L424.73,59.12 L424.88,59.19 L425.03,59.25 L425.18,59.32 L425.32,59.38 L425.47,59.45 L425.62,59.52 L425.77,59.58 L425.92,59.65 L426.06,59.71 L426.21,59.78 L426.36,59.85 L426.51,59.92 L426.66,59.98 L426.80,60.05 L426.95,60.12 L427.10,60.19 L427.25,60.26 L427.39,60.34 L427.54,60.41 L427.69,60.48 L427.84,60.55 L427.99,60.62 L428.13,60.68 L428.28,60.75 L428.43,60.81 L428.58,60.87 L428.72,60.93 L428.87,60.98 L429.02,61.03 L429.17,61.07 L429.32,61.11 L429.46,61.14 L429.61,61.16 L429.76,61.18 L429.91,61.20 L430.05,61.20 L430.20,61.20 L430.35,61.19 L430.50,61.17 L430.65,61.14 L430.79,61.10 L430.94,61.06 L431.09,61.00 L431.24,60.94 L431.39,60.87 L431.53,60.79 L431.68,60.71 L431.83,60.62 L431.98,60.52 L432.12,60.41 L432.27,60.30 L432.42,60.18 L432.57,60.05 L432.72,59.92 L432.86,59.78 L433.01,59.64 L433.16,59.49 L433.31,59.33 L433.45,59.18 L433.60,59.01 L433.75,58.85 L433.90,58.68 L434.05,58.51 L434.19,58.33 L434.34,58.15 L434.49,57.97 L434.64,57.79 L434.78,57.61 L434.93,57.42 L435.08,57.24 L435.23,57.05 L435.38,56.87 L435.52,56.68 L435.67,56.50 L435.82,56.31 L435.97,56.13 L436.12,55.94 L436.26,55.76 L436.41,55.57 L436.56,55.39 L436.71,55.20 L436.85,55.02 L437.00,54.83 L437.15,54.65 L437.30,54.46 L437.45,54.27 L437.59,54.08 L437.74,53.89 L437.89,53.70 L438.04,53.51 L438.18,53.31 L438.33,53.12 L438.48,52.92 L438.63,52.72 L438.78,52.52 L438.92,52.31 L439.07,52.11 L439.22,51.90 L439.37,51.69 L439.51,51.49 L439.66,51.28 L439.81,51.07 L439.96,50.86 L440.11,50.65 L440.25,50.44 L440.40,50.23 L440.55,50.03 L440.70,49.82 L440.85,49.62 L440.99,49.41 L441.14,49.21 L441.29,49.01 L441.44,48.81 L441.58,48.62 L441.73,48.43 L441.88,48.24 L442.03,48.05 L442.18,47.87 L442.32,47.69 L442.47,47.52 L442.62,47.35 L442.77,47.19 L442.91,47.03 L443.06,46.88 L443.21,46.73 L443.36,46.59 L443.51,46.45 L443.65,46.33 L443.80,46.20 L443.95,46.09 L444.10,45.98 L444.24,45.89 L444.39,45.80 L444.54,45.71 L444.69,45.63 L444.84,45.56 L444.98,45.49 L445.13,45.43 L445.28,45.38 L445.43,45.33 L445.58,45.28 L445.72,45.24 L445.87,45.20 L446.02,45.17 L446.17,45.14 L446.31,45.11 L446.46,45.08 L446.61,45.06 L446.76,45.04 L446.91,45.02 L447.05,45.00 L447.20,44.98 L447.35,44.97 L447.50,44.95 L447.64,44.93 L447.79,44.92 L447.94,44.90 L448.09,44.88 L448.24,44.86 L448.38,44.84 L448.53,44.81 L448.68,44.78 L448.83,44.75 L448.97,44.72 L449.12,44.68 L449.27,44.64 L449.42,44.59 L449.57,44.54 L449.71,44.49 L449.86,44.43 L450.01,44.36 L450.16,44.30 L450.31,44.23 L450.45,44.16 L450.60,44.09 L450.75,44.01 L450.90,43.93 L451.04,43.85 L451.19,43.77 L451.34,43.69 L451.49,43.61 L451.64,43.53 L451.78,43.44 L451.93,43.36 L452.08,43.28 L452.23,43.20 L452.37,43.12 L452.52,43.04 L452.67,42.96 L452.82,42.88 L452.97,42.81 L453.11,42.73 L453.26,42.66 L453.41,42.58 L453.56,42.51 L453.70,42.44 L453.85,42.37 L454.00,42.30 L454.15,42.24 L454.30,42.17 L454.44,42.10 L454.59,42.04 L454.74,41.97 L454.89,41.91 L455.04,41.85 L455.18,41.79 L455.33,41.73 L455.48,41.67 L455.63,41.61 L455.77,41.55 L455.92,41.49 L456.07,41.44 L456.22,41.38 L456.37,41.33 L456.51,41.27 L456.66,41.22 L456.81,41.17 L456.96,41.11 L457.10,41.06 L457.25,41.01 L457.40,40.96 L457.55,40.91 L457.70,40.86 L457.84,40.81 L457.99,40.76 L458.14,40.71 L458.29,40.66 L458.43,40.61 L458.58,40.56 L458.73,40.51 L458.88,40.46 L459.03,40.42 L459.17,40.37 L459.32,40.32 L459.47,40.27 L459.62,40.22 L459.77,40.17 L459.91,40.12 L460.06,40.08 L460.21,40.03 L460.36,39.98 L460.50,39.93 L460.65,39.89 L460.80,39.84 L460.95,39.79 L461.10,39.75 L461.24,39.71 L461.39,39.66 L461.54,39.62 L461.69,39.58 L461.83,39.54 L461.98,39.50 L462.13,39.46 L462.28,39.43 L462.43,39.39 L462.57,39.36 L462.72,39.33 L462.87,39.30 L463.02,39.27 L463.16,39.25 L463.31,39.22 L463.46,39.20 L463.61,39.18 L463.76,39.16 L463.90,39.15 L464.05,39.14 L464.20,39.13 L464.35,39.12 L464.50,39.11 L464.64,39.11 L464.79,39.11 L464.94,39.11 L465.09,39.12 L465.23,39.13 L465.38,39.14 L465.53,39.15 L465.68,39.16 L465.83,39.18 L465.97,39.20 L466.12,39.22 L466.27,39.24 L466.42,39.27 L466.56,39.30 L466.71,39.33 L466.86,39.36 L467.01,39.39 L467.16,39.42 L467.30,39.46 L467.45,39.50 L467.60,39.54 L467.75,39.58 L467.89,39.62 L468.04,39.67 L468.19,39.71 L468.34,39.76 L468.49,39.81 L468.63,39.86 L468.78,39.91 L468.93,39.97 L469.08,40.03 L469.23,40.09 L469.37,40.15 L469.52,40.22 L469.67,40.29 L469.82,40.36 L469.96,40.44 L470.11,40.52 L470.26,40.61 L470.41,40.69 L470.56,40.79 L470.70,40.89 L470.85,40.99 L471.00,41.10 L471.15,41.21 L471.29,41.32 L471.44,41.45 L471.59,41.58 L471.74,41.71 L471.89,41.85 L472.03,41.99 L472.18,42.14 L472.33,42.30 L472.48,42.45 L472.62,42.62 L472.77,42.78 L472.92,42.96 L473.07,43.13 L473.22,43.31 L473.36,43.50 L473.51,43.68 L473.66,43.88 L473.81,44.07 L473.96,44.27 L474.10,44.47 L474.25,44.67 L474.40,44.88 L474.55,45.09 L474.69,45.30 L474.84,45.52 L474.99,45.73 L475.14,45.95 L475.29,46.16 L475.43,46.37 L475.58,46.58 L475.73,46.78 L475.88,46.98 L476.02,47.17 L476.17,47.36 L476.32,47.54 L476.47,47.72 L476.62,47.88 L476.76,48.04 L476.91,48.19 L477.06,48.32 L477.21,48.45 L477.35,48.56 L477.50,48.66 L477.65,48.75 L477.80,48.82 L477.95,48.87 L478.09,48.91 L478.24,48.93 L478.39,48.93 L478.54,48.92 L478.69,48.88 L478.83,48.83 L478.98,48.75 L479.13,48.66 L479.28,48.55 L479.42,48.42 L479.57,48.27 L479.72,48.11 L479.87,47.94 L480.02,47.75 L480.16,47.54 L480.31,47.32 L480.46,47.09 L480.61,46.85 L480.75,46.60 L480.90,46.34 L481.05,46.06 L481.20,45.78 L481.35,45.50 L481.49,45.21 L481.64,44.93 L481.79,44.64 L481.94,44.37 L482.08,44.11 L482.23,43.86 L482.38,43.63 L482.53,43.42 L482.68,43.23 L482.82,43.06 L482.97,42.93 L483.12,42.83 L483.27,42.78 L483.42,42.76 L483.56,42.79 L483.71,42.88 L483.86,43.02 L484.01,43.22 L484.15,43.48 L484.30,43.79 L484.45,44.15 L484.60,44.57 L484.75,45.05 L484.89,45.58 L485.04,46.16 L485.19,46.80 L485.34,47.48 L485.48,48.21 L485.63,48.99 L485.78,49.82 L485.93,50.68 L486.08,51.59 L486.22,52.53 L486.37,53.51 L486.52,54.53 L486.67,55.58 L486.81,56.66 L486.96,57.76 L487.11,58.89 L487.26,60.04 L487.41,61.21 L487.55,62.40 L487.70,63.61 L487.85,64.82 L488.00,66.05 L488.15,67.28 L488.29,68.52 L488.44,69.76 L488.59,71.00 L488.74,72.25 L488.88,73.49 L489.03,74.73 L489.18,75.96 L489.33,77.19 L489.48,78.41 L489.62,79.61 L489.77,80.81 L489.92,81.99 L490.07,83.16 L490.21,84.32 L490.36,85.46 L490.51,86.58 L490.66,87.69 L490.81,88.78 L490.95,89.85 L491.10,90.90 L491.25,91.93 L491.40,92.93 L491.54,93.91 L491.69,94.86 L491.84,95.79 L491.99,96.69 L492.14,97.55 L492.28,98.39 L492.43,99.19 L492.58,99.96 L492.73,100.69 L492.88,101.39 L493.02,102.04 L493.17,102.64 L493.32,103.20 L493.47,103.72 L493.61,104.17 L493.76,104.58 L493.91,104.92 L494.06,105.21 L494.21,105.43 L494.35,105.58 L494.50,105.67 L494.65,105.69 L494.80,105.65 L494.94,105.55 L495.09,105.39 L495.24,105.18 L495.39,104.91 L495.54,104.59 L495.68,104.23 L495.83,103.82 L495.98,103.36 L496.13,102.86 L496.27,102.33 L496.42,101.76 L496.57,101.15 L496.72,100.51 L496.87,99.84 L497.01,99.15 L497.16,98.43 L497.31,97.68 L497.46,96.92 L497.61,96.13 L497.75,95.32 L497.90,94.49 L498.05,93.64 L498.20,92.78 L498.34,91.90 L498.49,91.01 L498.64,90.10 L498.79,89.18 L498.94,88.24 L499.08,87.30 L499.23,86.35 L499.38,85.38 L499.53,84.40 L499.67,83.42 L499.82,82.42 L499.97,81.41 L500.12,80.39 L500.27,79.37 L500.41,78.33 L500.56,77.29 L500.71,76.24 L500.86,75.18 L501.00,74.11 L501.15,73.03 L501.30,71.95 L501.45,70.86 L501.60,69.75 L501.74,68.64 L501.89,67.52 L502.04,66.40 L502.19,65.26 L502.34,64.12 L502.48,62.97 L502.63,61.81 L502.78,60.65 L502.93,59.49 L503.07,58.32 L503.22,57.15 L503.37,55.97 L503.52,54.80 L503.67,53.62 L503.81,52.44 L503.96,51.27 L504.11,50.10 L504.26,48.93 L504.40,47.77 L504.55,46.61 L504.70,45.47 L504.85,44.33 L505.00,43.20 L505.14,42.08 L505.29,40.98 L505.44,39.89 L505.59,38.82 L505.73,37.76 L505.88,36.72 L506.03,35.70 L506.18,34.70 L506.33,33.71 L506.47,32.75 L506.62,31.82 L506.77,30.90 L506.92,30.01 L507.07,29.14 L507.21,28.30 L507.36,27.49 L507.51,26.70 L507.66,25.93 L507.80,25.20 L507.95,24.49 L508.10,23.81 L508.25,23.16 L508.40,22.55 L508.54,21.96 L508.69,21.41 L508.84,20.89 L508.99,20.41 L509.13,19.97 L509.28,19.56 L509.43,19.19 L509.58,18.86 L509.73,18.57 L509.87,18.32 L510.02,18.12 L510.17,17.96 L510.32,17.85 L510.46,17.78 L510.61,17.75 L510.76,17.78 L510.91,17.86 L511.06,17.98 L511.20,18.15 L511.35,18.36 L511.50,18.61 L511.65,18.90 L511.80,19.23 L511.94,19.59 L512.09,19.99 L512.24,20.42 L512.39,20.88 L512.53,21.37 L512.68,21.88 L512.83,22.42 L512.98,22.98 L513.13,23.56 L513.27,24.16 L513.42,24.77 L513.57,25.40 L513.72,26.04 L513.86,26.70 L514.01,27.36 L514.16,28.02 L514.31,28.70 L514.46,29.37 L514.60,30.05 L514.75,30.73 L514.90,31.40 L515.05,32.08 L515.19,32.74 L515.34,33.40 L515.49,34.04 L515.64,34.68 L515.79,35.30 L515.93,35.92 L516.08,36.52 L516.23,37.10 L516.38,37.67 L516.53,38.22 L516.67,38.75 L516.82,39.26 L516.97,39.75 L517.12,40.22 L517.26,40.67 L517.41,41.09 L517.56,41.49 L517.71,41.86 L517.86,42.20 L518.00,42.51 L518.15,42.79 L518.30,43.04 L518.45,43.25 L518.59,43.42 L518.74,43.56 L518.89,43.66 L519.04,43.72 L519.19,43.73 L519.33,43.72 L519.48,43.66 L519.63,43.58 L519.78,43.47 L519.92,43.34 L520.07,43.18 L520.22,43.00 L520.37,42.82 L520.52,42.61 L520.66,42.40 L520.81,42.19 L520.96,41.96 L521.11,41.74 L521.26,41.52 L521.40,41.29 L521.55,41.07 L521.70,40.85 L521.85,40.63 L521.99,40.42 L522.14,40.21 L522.29,40.01 L522.44,39.81 L522.59,39.63 L522.73,39.46 L522.88,39.30 L523.03,39.15 L523.18,39.01 L523.32,38.89 L523.47,38.79 L523.62,38.70 L523.77,38.63 L523.92,38.58 L524.06,38.55 L524.21,38.53 L524.36,38.53 L524.51,38.55 L524.65,38.58 L524.80,38.62 L524.95,38.67 L525.10,38.74 L525.25,38.82 L525.39,38.90 L525.54,39.00 L525.69,39.10 L525.84,39.21 L525.99,39.32 L526.13,39.44 L526.28,39.56 L526.43,39.69 L526.58,39.82 L526.72,39.95 L526.87,40.08 L527.02,40.21 L527.17,40.34 L527.32,40.46 L527.46,40.58 L527.61,40.70 L527.76,40.82 L527.91,40.93 L528.05,41.05 L528.20,41.16 L528.35,41.27 L528.50,41.39 L528.65,41.50 L528.79,41.62 L528.94,41.74 L529.09,41.87 L529.24,42.00 L529.38,42.14 L529.53,42.28 L529.68,42.44 L529.83,42.60 L529.98,42.77 L530.12,42.94 L530.27,43.13 L530.42,43.34 L530.57,43.55 L530.72,43.78 L530.86,44.01 L531.01,44.26 L531.16,44.52 L531.31,44.80 L531.45,45.08 L531.60,45.38 L531.75,45.68 L531.90,46.00 L532.05,46.32 L532.19,46.66 L532.34,47.01 L532.49,47.37 L532.64,47.73 L532.78,48.10 L532.93,48.48 L533.08,48.87 L533.23,49.26 L533.38,49.66 L533.52,50.06 L533.67,50.46 L533.82,50.87 L533.97,51.27 L534.11,51.68 L534.26,52.08 L534.41,52.48 L534.56,52.88 L534.71,53.28 L534.85,53.67 L535.00,54.06 L535.15,54.44 L535.30,54.81 L535.45,55.17 L535.59,55.52 L535.74,55.87 L535.89,56.20 L536.04,56.52 L536.18,56.83 L536.33,57.12 L536.48,57.40 L536.63,57.67 L536.78,57.93 L536.92,58.17 L537.07,58.40 L537.22,58.62 L537.37,58.83 L537.51,59.02 L537.66,59.20 L537.81,59.38 L537.96,59.54 L538.11,59.70 L538.25,59.85 L538.40,59.99 L538.55,60.12 L538.70,60.25 L538.84,60.38 L538.99,60.50 L539.14,60.62 L539.29,60.74 L539.44,60.86 L539.58,60.97 L539.73,61.09 L539.88,61.20 L540.03,61.32 L540.18,61.44 L540.32,61.57 L540.47,61.69 L540.62,61.82 L540.77,61.95 L540.91,62.08 L541.06,62.20 L541.21,62.33 L541.36,62.45 L541.51,62.57 L541.65,62.69 L541.80,62.81 L541.95,62.92 L542.10,63.03 L542.24,63.13 L542.39,63.22 L542.54,63.29 L542.69,63.36 L542.84,63.41 L542.98,63.44 L543.13,63.45 L543.28,63.45 L543.43,63.41 L543.57,63.36 L543.72,63.27 L543.87,63.16 L544.02,63.02 L544.17,62.86 L544.31,62.67 L544.46,62.45 L544.61,62.21 L544.76,61.95 L544.91,61.67 L545.05,61.36 L545.20,61.04 L545.35,60.70 L545.50,60.35 L545.64,59.98 L545.79,59.60 L545.94,59.21 L546.09,58.81 L546.24,58.42 L546.38,58.01" fill="none" stroke="#0b79bf" stroke-width="1.5" stroke-linejoin="round" stroke-linecap="round"/></g>
<rect x="310.1" y="14.0" width="235.60" height="95.80" fill="none" stroke="#484848" stroke-width="1.05"/>
<text x="310.20" y="11.80" font-size="9.6" font-family='"Liberation Serif", serif' fill="#222222" textLength="23.8" lengthAdjust="spacingAndGlyphs">×10<tspan dy="-3.1" font-size="6.91">−5</tspan></text>
<text x="0.00" y="0.00" font-size="9.7" text-anchor="middle" font-family='"Liberation Serif", serif' fill="#222222" textLength="83.6" lengthAdjust="spacingAndGlyphs" transform="translate(288.0,61.85) rotate(-90)">Horizontal Signal [V]</text>
<text x="283.40" y="16.90" font-size="16.8" text-anchor="start" font-family='"Liberation Sans", sans-serif' fill="#000" stroke="#000" stroke-width="0.12">(b)</text>
<line x1="322.15" x2="322.15" y1="143.0" y2="238.8" stroke="#bdbdbd" stroke-width="0.7"/>
<line x1="322.15" x2="322.15" y1="238.8" y2="242.0" stroke="#484848" stroke-width="0.8"/>
<text x="324.55" y="251.60" font-size="10" text-anchor="middle" font-family='"Liberation Serif", serif' fill="#0a0a0a" >1.0</text>
<line x1="352.00" x2="352.00" y1="143.0" y2="238.8" stroke="#bdbdbd" stroke-width="0.7"/>
<line x1="352.00" x2="352.00" y1="238.8" y2="242.0" stroke="#484848" stroke-width="0.8"/>
<text x="352.50" y="251.60" font-size="10" text-anchor="middle" font-family='"Liberation Serif", serif' fill="#0a0a0a" >1.5</text>
<line x1="381.85" x2="381.85" y1="143.0" y2="238.8" stroke="#bdbdbd" stroke-width="0.7"/>
<line x1="381.85" x2="381.85" y1="238.8" y2="242.0" stroke="#484848" stroke-width="0.8"/>
<text x="382.35" y="251.60" font-size="10" text-anchor="middle" font-family='"Liberation Serif", serif' fill="#0a0a0a" >2.0</text>
<line x1="411.70" x2="411.70" y1="143.0" y2="238.8" stroke="#bdbdbd" stroke-width="0.7"/>
<line x1="411.70" x2="411.70" y1="238.8" y2="242.0" stroke="#484848" stroke-width="0.8"/>
<text x="412.20" y="251.60" font-size="10" text-anchor="middle" font-family='"Liberation Serif", serif' fill="#0a0a0a" >2.5</text>
<line x1="441.55" x2="441.55" y1="143.0" y2="238.8" stroke="#bdbdbd" stroke-width="0.7"/>
<line x1="441.55" x2="441.55" y1="238.8" y2="242.0" stroke="#484848" stroke-width="0.8"/>
<text x="442.05" y="251.60" font-size="10" text-anchor="middle" font-family='"Liberation Serif", serif' fill="#0a0a0a" >3.0</text>
<line x1="471.40" x2="471.40" y1="143.0" y2="238.8" stroke="#bdbdbd" stroke-width="0.7"/>
<line x1="471.40" x2="471.40" y1="238.8" y2="242.0" stroke="#484848" stroke-width="0.8"/>
<text x="471.90" y="251.60" font-size="10" text-anchor="middle" font-family='"Liberation Serif", serif' fill="#0a0a0a" >3.5</text>
<line x1="501.25" x2="501.25" y1="143.0" y2="238.8" stroke="#bdbdbd" stroke-width="0.7"/>
<line x1="501.25" x2="501.25" y1="238.8" y2="242.0" stroke="#484848" stroke-width="0.8"/>
<text x="501.75" y="251.60" font-size="10" text-anchor="middle" font-family='"Liberation Serif", serif' fill="#0a0a0a" >4.0</text>
<line x1="531.10" x2="531.10" y1="143.0" y2="238.8" stroke="#bdbdbd" stroke-width="0.7"/>
<line x1="531.10" x2="531.10" y1="238.8" y2="242.0" stroke="#484848" stroke-width="0.8"/>
<text x="531.60" y="251.60" font-size="10" text-anchor="middle" font-family='"Liberation Serif", serif' fill="#0a0a0a" >4.5</text>
<line y1="236.65" y2="236.65" x1="310.1" x2="545.7" stroke="#bdbdbd" stroke-width="0.7"/>
<line y1="236.65" y2="236.65" x1="306.90000000000003" x2="310.1" stroke="#484848" stroke-width="0.8"/>
<text x="303.70" y="240.35" font-size="9.1" text-anchor="end" font-family='"Liberation Serif", serif' fill="#222222" ><tspan font-size="12" dy="0.7">−</tspan><tspan dy="-0.7">2</tspan></text>
<line y1="209.85" y2="209.85" x1="310.1" x2="545.7" stroke="#bdbdbd" stroke-width="0.7"/>
<line y1="209.85" y2="209.85" x1="306.90000000000003" x2="310.1" stroke="#484848" stroke-width="0.8"/>
<text x="303.70" y="213.55" font-size="9.1" text-anchor="end" font-family='"Liberation Serif", serif' fill="#222222" >0</text>
<line y1="183.05" y2="183.05" x1="310.1" x2="545.7" stroke="#bdbdbd" stroke-width="0.7"/>
<line y1="183.05" y2="183.05" x1="306.90000000000003" x2="310.1" stroke="#484848" stroke-width="0.8"/>
<text x="303.70" y="186.75" font-size="9.1" text-anchor="end" font-family='"Liberation Serif", serif' fill="#222222" >2</text>
<line y1="156.25" y2="156.25" x1="310.1" x2="545.7" stroke="#bdbdbd" stroke-width="0.7"/>
<line y1="156.25" y2="156.25" x1="306.90000000000003" x2="310.1" stroke="#484848" stroke-width="0.8"/>
<text x="303.70" y="159.95" font-size="9.1" text-anchor="end" font-family='"Liberation Serif", serif' fill="#222222" >4</text>
<g clip-path="url(#cc)"><path d="M310.03,210.66 L310.18,210.68 L310.33,210.70 L310.47,210.72 L310.62,210.73 L310.77,210.73 L310.92,210.73 L311.07,210.72 L311.21,210.69 L311.36,210.64 L311.51,210.57 L311.66,210.48 L311.80,210.36 L311.95,210.21 L312.10,210.02 L312.25,209.81 L312.40,209.56 L312.54,209.28 L312.69,208.96 L312.84,208.61 L312.99,208.22 L313.13,207.80 L313.28,207.34 L313.43,206.84 L313.58,206.31 L313.73,205.75 L313.87,205.15 L314.02,204.53 L314.17,203.87 L314.32,203.18 L314.47,202.46 L314.61,201.72 L314.76,200.95 L314.91,200.15 L315.06,199.33 L315.20,198.49 L315.35,197.62 L315.50,196.73 L315.65,195.82 L315.80,194.89 L315.94,193.94 L316.09,192.98 L316.24,192.00 L316.39,191.00 L316.53,190.00 L316.68,188.97 L316.83,187.94 L316.98,186.90 L317.13,185.85 L317.27,184.79 L317.42,183.72 L317.57,182.65 L317.72,181.57 L317.86,180.49 L318.01,179.41 L318.16,178.32 L318.31,177.24 L318.46,176.16 L318.60,175.08 L318.75,174.00 L318.90,172.93 L319.05,171.87 L319.20,170.82 L319.34,169.77 L319.49,168.73 L319.64,167.71 L319.79,166.70 L319.93,165.70 L320.08,164.72 L320.23,163.76 L320.38,162.81 L320.53,161.88 L320.67,160.98 L320.82,160.09 L320.97,159.22 L321.12,158.38 L321.26,157.57 L321.41,156.78 L321.56,156.01 L321.71,155.28 L321.86,154.57 L322.00,153.89 L322.15,153.24 L322.30,152.61 L322.45,152.02 L322.59,151.45 L322.74,150.92 L322.89,150.42 L323.04,149.95 L323.19,149.51 L323.33,149.11 L323.48,148.73 L323.63,148.40 L323.78,148.09 L323.93,147.82 L324.07,147.59 L324.22,147.39 L324.37,147.23 L324.52,147.11 L324.66,147.02 L324.81,146.97 L324.96,146.96 L325.11,146.98 L325.26,147.04 L325.40,147.13 L325.55,147.26 L325.70,147.43 L325.85,147.62 L325.99,147.85 L326.14,148.11 L326.29,148.41 L326.44,148.73 L326.59,149.08 L326.73,149.46 L326.88,149.87 L327.03,150.31 L327.18,150.78 L327.32,151.27 L327.47,151.78 L327.62,152.33 L327.77,152.89 L327.92,153.48 L328.06,154.09 L328.21,154.73 L328.36,155.39 L328.51,156.07 L328.66,156.76 L328.80,157.48 L328.95,158.22 L329.10,158.98 L329.25,159.75 L329.39,160.55 L329.54,161.36 L329.69,162.19 L329.84,163.04 L329.99,163.90 L330.13,164.78 L330.28,165.67 L330.43,166.58 L330.58,167.51 L330.72,168.45 L330.87,169.40 L331.02,170.37 L331.17,171.35 L331.32,172.34 L331.46,173.35 L331.61,174.36 L331.76,175.39 L331.91,176.42 L332.05,177.46 L332.20,178.51 L332.35,179.56 L332.50,180.62 L332.65,181.68 L332.79,182.75 L332.94,183.82 L333.09,184.89 L333.24,185.96 L333.39,187.03 L333.53,188.11 L333.68,189.18 L333.83,190.24 L333.98,191.31 L334.12,192.37 L334.27,193.43 L334.42,194.48 L334.57,195.52 L334.72,196.56 L334.86,197.59 L335.01,198.62 L335.16,199.63 L335.31,200.63 L335.45,201.62 L335.60,202.59 L335.75,203.56 L335.90,204.51 L336.05,205.44 L336.19,206.36 L336.34,207.26 L336.49,208.14 L336.64,209.00 L336.78,209.84 L336.93,210.66 L337.08,211.47 L337.23,212.24 L337.38,213.00 L337.52,213.73 L337.67,214.44 L337.82,215.13 L337.97,215.79 L338.12,216.43 L338.26,217.04 L338.41,217.62 L338.56,218.18 L338.71,218.71 L338.85,219.21 L339.00,219.69 L339.15,220.14 L339.30,220.56 L339.45,220.96 L339.59,221.33 L339.74,221.67 L339.89,221.98 L340.04,222.27 L340.18,222.53 L340.33,222.76 L340.48,222.96 L340.63,223.14 L340.78,223.29 L340.92,223.41 L341.07,223.51 L341.22,223.58 L341.37,223.62 L341.51,223.64 L341.66,223.63 L341.81,223.60 L341.96,223.54 L342.11,223.46 L342.25,223.36 L342.40,223.24 L342.55,223.10 L342.70,222.94 L342.85,222.76 L342.99,222.58 L343.14,222.37 L343.29,222.16 L343.44,221.93 L343.58,221.70 L343.73,221.45 L343.88,221.20 L344.03,220.94 L344.18,220.67 L344.32,220.40 L344.47,220.12 L344.62,219.84 L344.77,219.55 L344.91,219.26 L345.06,218.97 L345.21,218.67 L345.36,218.38 L345.51,218.09 L345.65,217.79 L345.80,217.50 L345.95,217.21 L346.10,216.92 L346.24,216.64 L346.39,216.36 L346.54,216.08 L346.69,215.81 L346.84,215.54 L346.98,215.27 L347.13,215.01 L347.28,214.75 L347.43,214.50 L347.58,214.25 L347.72,214.00 L347.87,213.76 L348.02,213.53 L348.17,213.30 L348.31,213.07 L348.46,212.85 L348.61,212.64 L348.76,212.43 L348.91,212.22 L349.05,212.02 L349.20,211.83 L349.35,211.64 L349.50,211.46 L349.64,211.28 L349.79,211.11 L349.94,210.94 L350.09,210.77 L350.24,210.62 L350.38,210.46 L350.53,210.31 L350.68,210.16 L350.83,210.02 L350.97,209.88 L351.12,209.74 L351.27,209.61 L351.42,209.48 L351.57,209.36 L351.71,209.23 L351.86,209.11 L352.01,208.99 L352.16,208.88 L352.31,208.76 L352.45,208.65 L352.60,208.54 L352.75,208.44 L352.90,208.33 L353.04,208.23 L353.19,208.13 L353.34,208.04 L353.49,207.94 L353.64,207.85 L353.78,207.77 L353.93,207.68 L354.08,207.60 L354.23,207.52 L354.37,207.45 L354.52,207.38 L354.67,207.31 L354.82,207.24 L354.97,207.18 L355.11,207.12 L355.26,207.06 L355.41,207.01 L355.56,206.96 L355.70,206.91 L355.85,206.87 L356.00,206.83 L356.15,206.79 L356.30,206.76 L356.44,206.73 L356.59,206.70 L356.74,206.67 L356.89,206.64 L357.04,206.62 L357.18,206.60 L357.33,206.58 L357.48,206.56 L357.63,206.54 L357.77,206.52 L357.92,206.50 L358.07,206.48 L358.22,206.46 L358.37,206.44 L358.51,206.42 L358.66,206.40 L358.81,206.38 L358.96,206.35 L359.10,206.33 L359.25,206.30 L359.40,206.27 L359.55,206.24 L359.70,206.21 L359.84,206.18 L359.99,206.14 L360.14,206.10 L360.29,206.05 L360.43,206.01 L360.58,205.96 L360.73,205.90 L360.88,205.85 L361.03,205.79 L361.17,205.72 L361.32,205.66 L361.47,205.59 L361.62,205.52 L361.77,205.45 L361.91,205.38 L362.06,205.30 L362.21,205.22 L362.36,205.14 L362.50,205.06 L362.65,204.98 L362.80,204.89 L362.95,204.81 L363.10,204.72 L363.24,204.64 L363.39,204.55 L363.54,204.46 L363.69,204.37 L363.83,204.29 L363.98,204.20 L364.13,204.11 L364.28,204.02 L364.43,203.93 L364.57,203.84 L364.72,203.76 L364.87,203.67 L365.02,203.59 L365.16,203.50 L365.31,203.42 L365.46,203.34 L365.61,203.26 L365.76,203.18 L365.90,203.10 L366.05,203.03 L366.20,202.95 L366.35,202.88 L366.50,202.82 L366.64,202.75 L366.79,202.69 L366.94,202.63 L367.09,202.57 L367.23,202.51 L367.38,202.46 L367.53,202.41 L367.68,202.37 L367.83,202.32 L367.97,202.29 L368.12,202.25 L368.27,202.22 L368.42,202.19 L368.56,202.16 L368.71,202.14 L368.86,202.12 L369.01,202.10 L369.16,202.09 L369.30,202.08 L369.45,202.08 L369.60,202.07 L369.75,202.08 L369.89,202.08 L370.04,202.09 L370.19,202.11 L370.34,202.13 L370.49,202.15 L370.63,202.17 L370.78,202.20 L370.93,202.24 L371.08,202.27 L371.23,202.31 L371.37,202.36 L371.52,202.41 L371.67,202.46 L371.82,202.52 L371.96,202.58 L372.11,202.65 L372.26,202.72 L372.41,202.79 L372.56,202.87 L372.70,202.95 L372.85,203.03 L373.00,203.12 L373.15,203.22 L373.29,203.32 L373.44,203.42 L373.59,203.52 L373.74,203.63 L373.89,203.74 L374.03,203.85 L374.18,203.97 L374.33,204.09 L374.48,204.21 L374.62,204.33 L374.77,204.45 L374.92,204.58 L375.07,204.71 L375.22,204.83 L375.36,204.96 L375.51,205.09 L375.66,205.22 L375.81,205.35 L375.96,205.48 L376.10,205.61 L376.25,205.74 L376.40,205.86 L376.55,205.99 L376.69,206.12 L376.84,206.24 L376.99,206.37 L377.14,206.49 L377.29,206.61 L377.43,206.73 L377.58,206.85 L377.73,206.97 L377.88,207.09 L378.02,207.20 L378.17,207.31 L378.32,207.42 L378.47,207.53 L378.62,207.63 L378.76,207.73 L378.91,207.83 L379.06,207.93 L379.21,208.02 L379.35,208.11 L379.50,208.20 L379.65,208.28 L379.80,208.36 L379.95,208.44 L380.09,208.52 L380.24,208.59 L380.39,208.66 L380.54,208.73 L380.69,208.80 L380.83,208.86 L380.98,208.93 L381.13,208.99 L381.28,209.04 L381.42,209.10 L381.57,209.15 L381.72,209.21 L381.87,209.26 L382.02,209.31 L382.16,209.35 L382.31,209.40 L382.46,209.44 L382.61,209.48 L382.75,209.52 L382.90,209.56 L383.05,209.60 L383.20,209.63 L383.35,209.67 L383.49,209.70 L383.64,209.73 L383.79,209.76 L383.94,209.79 L384.08,209.81 L384.23,209.84 L384.38,209.86 L384.53,209.88 L384.68,209.90 L384.82,209.92 L384.97,209.94 L385.12,209.96 L385.27,209.98 L385.42,209.99 L385.56,210.01 L385.71,210.02 L385.86,210.03 L386.01,210.04 L386.15,210.05 L386.30,210.06 L386.45,210.07 L386.60,210.08 L386.75,210.08 L386.89,210.08 L387.04,210.09 L387.19,210.09 L387.34,210.09 L387.48,210.09 L387.63,210.08 L387.78,210.08 L387.93,210.07 L388.08,210.06 L388.22,210.05 L388.37,210.04 L388.52,210.03 L388.67,210.01 L388.81,210.00 L388.96,209.98 L389.11,209.96 L389.26,209.94 L389.41,209.92 L389.55,209.89 L389.70,209.87 L389.85,209.84 L390.00,209.81 L390.15,209.78 L390.29,209.74 L390.44,209.71 L390.59,209.67 L390.74,209.63 L390.88,209.60 L391.03,209.56 L391.18,209.51 L391.33,209.47 L391.48,209.43 L391.62,209.38 L391.77,209.33 L391.92,209.28 L392.07,209.23 L392.21,209.18 L392.36,209.13 L392.51,209.08 L392.66,209.02 L392.81,208.97 L392.95,208.91 L393.10,208.85 L393.25,208.79 L393.40,208.73 L393.55,208.67 L393.69,208.61 L393.84,208.55 L393.99,208.49 L394.14,208.42 L394.28,208.35 L394.43,208.29 L394.58,208.22 L394.73,208.15 L394.88,208.08 L395.02,208.01 L395.17,207.94 L395.32,207.87 L395.47,207.80 L395.61,207.73 L395.76,207.65 L395.91,207.58 L396.06,207.51 L396.21,207.43 L396.35,207.35 L396.50,207.28 L396.65,207.20 L396.80,207.12 L396.94,207.04 L397.09,206.97 L397.24,206.89 L397.39,206.81 L397.54,206.72 L397.68,206.64 L397.83,206.56 L397.98,206.48 L398.13,206.39 L398.28,206.31 L398.42,206.22 L398.57,206.14 L398.72,206.05 L398.87,205.96 L399.01,205.88 L399.16,205.79 L399.31,205.70 L399.46,205.61 L399.61,205.52 L399.75,205.42 L399.90,205.33 L400.05,205.24 L400.20,205.14 L400.34,205.05 L400.49,204.95 L400.64,204.86 L400.79,204.76 L400.94,204.66 L401.08,204.56 L401.23,204.46 L401.38,204.36 L401.53,204.26 L401.67,204.16 L401.82,204.06 L401.97,203.96 L402.12,203.86 L402.27,203.76 L402.41,203.66 L402.56,203.56 L402.71,203.45 L402.86,203.35 L403.01,203.25 L403.15,203.15 L403.30,203.04 L403.45,202.94 L403.60,202.84 L403.74,202.74 L403.89,202.63 L404.04,202.53 L404.19,202.43 L404.34,202.33 L404.48,202.22 L404.63,202.12 L404.78,202.02 L404.93,201.92 L405.07,201.82 L405.22,201.72 L405.37,201.62 L405.52,201.52 L405.67,201.42 L405.81,201.32 L405.96,201.22 L406.11,201.13 L406.26,201.03 L406.40,200.93 L406.55,200.84 L406.70,200.74 L406.85,200.65 L407.00,200.56 L407.14,200.47 L407.29,200.38 L407.44,200.29 L407.59,200.20 L407.74,200.11 L407.88,200.02 L408.03,199.94 L408.18,199.85 L408.33,199.77 L408.47,199.69 L408.62,199.61 L408.77,199.53 L408.92,199.45 L409.07,199.38 L409.21,199.30 L409.36,199.23 L409.51,199.16 L409.66,199.08 L409.80,199.02 L409.95,198.95 L410.10,198.88 L410.25,198.82 L410.40,198.76 L410.54,198.70 L410.69,198.64 L410.84,198.58 L410.99,198.53 L411.13,198.48 L411.28,198.43 L411.43,198.38 L411.58,198.34 L411.73,198.29 L411.87,198.26 L412.02,198.22 L412.17,198.19 L412.32,198.16 L412.47,198.13 L412.61,198.11 L412.76,198.09 L412.91,198.07 L413.06,198.06 L413.20,198.06 L413.35,198.05 L413.50,198.05 L413.65,198.06 L413.80,198.07 L413.94,198.09 L414.09,198.11 L414.24,198.13 L414.39,198.16 L414.53,198.19 L414.68,198.23 L414.83,198.27 L414.98,198.31 L415.13,198.36 L415.27,198.41 L415.42,198.46 L415.57,198.51 L415.72,198.57 L415.86,198.64 L416.01,198.70 L416.16,198.77 L416.31,198.84 L416.46,198.91 L416.60,198.98 L416.75,199.05 L416.90,199.13 L417.05,199.21 L417.20,199.29 L417.34,199.37 L417.49,199.45 L417.64,199.53 L417.79,199.61 L417.93,199.69 L418.08,199.77 L418.23,199.85 L418.38,199.93 L418.53,200.01 L418.67,200.08 L418.82,200.16 L418.97,200.23 L419.12,200.30 L419.26,200.36 L419.41,200.43 L419.56,200.49 L419.71,200.55 L419.86,200.60 L420.00,200.65 L420.15,200.69 L420.30,200.74 L420.45,200.78 L420.59,200.81 L420.74,200.84 L420.89,200.87 L421.04,200.90 L421.19,200.92 L421.33,200.94 L421.48,200.95 L421.63,200.97 L421.78,200.98 L421.93,200.98 L422.07,200.99 L422.22,200.99 L422.37,200.99 L422.52,200.98 L422.66,200.98 L422.81,200.97 L422.96,200.95 L423.11,200.94 L423.26,200.92 L423.40,200.91 L423.55,200.89 L423.70,200.87 L423.85,200.85 L423.99,200.83 L424.14,200.81 L424.29,200.78 L424.44,200.76 L424.59,200.74 L424.73,200.72 L424.88,200.70 L425.03,200.68 L425.18,200.66 L425.32,200.64 L425.47,200.63 L425.62,200.62 L425.77,200.61 L425.92,200.60 L426.06,200.59 L426.21,200.59 L426.36,200.58 L426.51,200.58 L426.66,200.59 L426.80,200.59 L426.95,200.60 L427.10,200.61 L427.25,200.62 L427.39,200.64 L427.54,200.66 L427.69,200.68 L427.84,200.70 L427.99,200.73 L428.13,200.76 L428.28,200.79 L428.43,200.83 L428.58,200.87 L428.72,200.91 L428.87,200.95 L429.02,201.00 L429.17,201.06 L429.32,201.11 L429.46,201.17 L429.61,201.23 L429.76,201.30 L429.91,201.36 L430.05,201.44 L430.20,201.51 L430.35,201.59 L430.50,201.67 L430.65,201.76 L430.79,201.84 L430.94,201.93 L431.09,202.03 L431.24,202.12 L431.39,202.22 L431.53,202.32 L431.68,202.42 L431.83,202.52 L431.98,202.62 L432.12,202.73 L432.27,202.83 L432.42,202.94 L432.57,203.04 L432.72,203.15 L432.86,203.26 L433.01,203.37 L433.16,203.47 L433.31,203.58 L433.45,203.68 L433.60,203.79 L433.75,203.89 L433.90,204.00 L434.05,204.10 L434.19,204.20 L434.34,204.30 L434.49,204.40 L434.64,204.50 L434.78,204.60 L434.93,204.69 L435.08,204.78 L435.23,204.88 L435.38,204.97 L435.52,205.06 L435.67,205.14 L435.82,205.23 L435.97,205.31 L436.12,205.39 L436.26,205.47 L436.41,205.54 L436.56,205.61 L436.71,205.68 L436.85,205.75 L437.00,205.82 L437.15,205.89 L437.30,205.95 L437.45,206.01 L437.59,206.07 L437.74,206.13 L437.89,206.19 L438.04,206.25 L438.18,206.30 L438.33,206.36 L438.48,206.41 L438.63,206.47 L438.78,206.52 L438.92,206.57 L439.07,206.62 L439.22,206.67 L439.37,206.72 L439.51,206.78 L439.66,206.83 L439.81,206.88 L439.96,206.93 L440.11,206.98 L440.25,207.02 L440.40,207.07 L440.55,207.12 L440.70,207.17 L440.85,207.22 L440.99,207.27 L441.14,207.31 L441.29,207.36 L441.44,207.41 L441.58,207.45 L441.73,207.50 L441.88,207.54 L442.03,207.59 L442.18,207.63 L442.32,207.68 L442.47,207.72 L442.62,207.76 L442.77,207.80 L442.91,207.85 L443.06,207.89 L443.21,207.93 L443.36,207.97 L443.51,208.00 L443.65,208.04 L443.80,208.08 L443.95,208.12 L444.10,208.15 L444.24,208.19 L444.39,208.22 L444.54,208.25 L444.69,208.29 L444.84,208.32 L444.98,208.35 L445.13,208.38 L445.28,208.41 L445.43,208.43 L445.58,208.46 L445.72,208.49 L445.87,208.51 L446.02,208.54 L446.17,208.56 L446.31,208.59 L446.46,208.61 L446.61,208.64 L446.76,208.66 L446.91,208.68 L447.05,208.71 L447.20,208.73 L447.35,208.76 L447.50,208.79 L447.64,208.81 L447.79,208.84 L447.94,208.87 L448.09,208.90 L448.24,208.93 L448.38,208.96 L448.53,209.00 L448.68,209.03 L448.83,209.07 L448.97,209.11 L449.12,209.15 L449.27,209.19 L449.42,209.23 L449.57,209.28 L449.71,209.32 L449.86,209.37 L450.01,209.41 L450.16,209.46 L450.31,209.51 L450.45,209.56 L450.60,209.61 L450.75,209.66 L450.90,209.71 L451.04,209.76 L451.19,209.81 L451.34,209.86 L451.49,209.91 L451.64,209.96 L451.78,210.01 L451.93,210.07 L452.08,210.12 L452.23,210.17 L452.37,210.22 L452.52,210.26 L452.67,210.31 L452.82,210.36 L452.97,210.41 L453.11,210.45 L453.26,210.50 L453.41,210.55 L453.56,210.59 L453.70,210.64 L453.85,210.68 L454.00,210.73 L454.15,210.78 L454.30,210.82 L454.44,210.86 L454.59,210.91 L454.74,210.95 L454.89,211.00 L455.04,211.04 L455.18,211.09 L455.33,211.13 L455.48,211.18 L455.63,211.22 L455.77,211.27 L455.92,211.32 L456.07,211.36 L456.22,211.41 L456.37,211.46 L456.51,211.50 L456.66,211.55 L456.81,211.60 L456.96,211.64 L457.10,211.69 L457.25,211.74 L457.40,211.79 L457.55,211.84 L457.70,211.89 L457.84,211.94 L457.99,211.99 L458.14,212.04 L458.29,212.09 L458.43,212.14 L458.58,212.19 L458.73,212.24 L458.88,212.30 L459.03,212.35 L459.17,212.40 L459.32,212.45 L459.47,212.51 L459.62,212.56 L459.77,212.62 L459.91,212.67 L460.06,212.73 L460.21,212.78 L460.36,212.84 L460.50,212.89 L460.65,212.95 L460.80,213.00 L460.95,213.05 L461.10,213.11 L461.24,213.16 L461.39,213.21 L461.54,213.27 L461.69,213.32 L461.83,213.37 L461.98,213.42 L462.13,213.47 L462.28,213.52 L462.43,213.56 L462.57,213.61 L462.72,213.66 L462.87,213.70 L463.02,213.74 L463.16,213.78 L463.31,213.82 L463.46,213.86 L463.61,213.90 L463.76,213.93 L463.90,213.97 L464.05,214.00 L464.20,214.03 L464.35,214.06 L464.50,214.09 L464.64,214.11 L464.79,214.14 L464.94,214.16 L465.09,214.19 L465.23,214.21 L465.38,214.23 L465.53,214.25 L465.68,214.27 L465.83,214.29 L465.97,214.30 L466.12,214.32 L466.27,214.33 L466.42,214.35 L466.56,214.36 L466.71,214.37 L466.86,214.38 L467.01,214.39 L467.16,214.40 L467.30,214.41 L467.45,214.41 L467.60,214.42 L467.75,214.43 L467.89,214.44 L468.04,214.45 L468.19,214.46 L468.34,214.47 L468.49,214.48 L468.63,214.49 L468.78,214.51 L468.93,214.52 L469.08,214.54 L469.23,214.56 L469.37,214.58 L469.52,214.61 L469.67,214.63 L469.82,214.66 L469.96,214.70 L470.11,214.73 L470.26,214.77 L470.41,214.81 L470.56,214.86 L470.70,214.91 L470.85,214.96 L471.00,215.02 L471.15,215.09 L471.29,215.15 L471.44,215.22 L471.59,215.30 L471.74,215.38 L471.89,215.47 L472.03,215.55 L472.18,215.65 L472.33,215.75 L472.48,215.85 L472.62,215.96 L472.77,216.08 L472.92,216.20 L473.07,216.33 L473.22,216.46 L473.36,216.59 L473.51,216.73 L473.66,216.88 L473.81,217.03 L473.96,217.19 L474.10,217.35 L474.25,217.51 L474.40,217.68 L474.55,217.85 L474.69,218.03 L474.84,218.21 L474.99,218.40 L475.14,218.59 L475.29,218.78 L475.43,218.98 L475.58,219.18 L475.73,219.38 L475.88,219.59 L476.02,219.81 L476.17,220.02 L476.32,220.25 L476.47,220.48 L476.62,220.71 L476.76,220.95 L476.91,221.20 L477.06,221.45 L477.21,221.71 L477.35,221.97 L477.50,222.24 L477.65,222.52 L477.80,222.81 L477.95,223.10 L478.09,223.40 L478.24,223.71 L478.39,224.02 L478.54,224.33 L478.69,224.65 L478.83,224.97 L478.98,225.29 L479.13,225.62 L479.28,225.95 L479.42,226.27 L479.57,226.60 L479.72,226.92 L479.87,227.24 L480.02,227.55 L480.16,227.86 L480.31,228.15 L480.46,228.44 L480.61,228.72 L480.75,228.99 L480.90,229.24 L481.05,229.48 L481.20,229.70 L481.35,229.90 L481.49,230.09 L481.64,230.25 L481.79,230.39 L481.94,230.51 L482.08,230.59 L482.23,230.64 L482.38,230.65 L482.53,230.62 L482.68,230.55 L482.82,230.42 L482.97,230.26 L483.12,230.04 L483.27,229.78 L483.42,229.48 L483.56,229.13 L483.71,228.74 L483.86,228.30 L484.01,227.82 L484.15,227.30 L484.30,226.74 L484.45,226.14 L484.60,225.50 L484.75,224.83 L484.89,224.12 L485.04,223.37 L485.19,222.59 L485.34,221.79 L485.48,220.95 L485.63,220.08 L485.78,219.19 L485.93,218.27 L486.08,217.32 L486.22,216.35 L486.37,215.36 L486.52,214.35 L486.67,213.31 L486.81,212.26 L486.96,211.19 L487.11,210.10 L487.26,209.00 L487.41,207.88 L487.55,206.75 L487.70,205.61 L487.85,204.46 L488.00,203.30 L488.15,202.13 L488.29,200.96 L488.44,199.78 L488.59,198.60 L488.74,197.41 L488.88,196.23 L489.03,195.05 L489.18,193.87 L489.33,192.69 L489.48,191.52 L489.62,190.35 L489.77,189.19 L489.92,188.03 L490.07,186.89 L490.21,185.75 L490.36,184.62 L490.51,183.50 L490.66,182.40 L490.81,181.30 L490.95,180.22 L491.10,179.16 L491.25,178.11 L491.40,177.07 L491.54,176.05 L491.69,175.05 L491.84,174.07 L491.99,173.11 L492.14,172.17 L492.28,171.25 L492.43,170.35 L492.58,169.47 L492.73,168.62 L492.88,167.79 L493.02,166.99 L493.17,166.22 L493.32,165.48 L493.47,164.76 L493.61,164.08 L493.76,163.42 L493.91,162.80 L494.06,162.21 L494.21,161.66 L494.35,161.15 L494.50,160.68 L494.65,160.25 L494.80,159.87 L494.94,159.54 L495.09,159.26 L495.24,159.03 L495.39,158.87 L495.54,158.76 L495.68,158.71 L495.83,158.73 L495.98,158.81 L496.13,158.94 L496.27,159.13 L496.42,159.37 L496.57,159.66 L496.72,159.99 L496.87,160.37 L497.01,160.79 L497.16,161.24 L497.31,161.73 L497.46,162.25 L497.61,162.80 L497.75,163.38 L497.90,163.98 L498.05,164.61 L498.20,165.26 L498.34,165.93 L498.49,166.62 L498.64,167.34 L498.79,168.07 L498.94,168.82 L499.08,169.59 L499.23,170.37 L499.38,171.17 L499.53,171.99 L499.67,172.82 L499.82,173.66 L499.97,174.52 L500.12,175.38 L500.27,176.26 L500.41,177.16 L500.56,178.06 L500.71,178.97 L500.86,179.89 L501.00,180.82 L501.15,181.76 L501.30,182.70 L501.45,183.66 L501.60,184.61 L501.74,185.58 L501.89,186.55 L502.04,187.53 L502.19,188.51 L502.34,189.50 L502.48,190.49 L502.63,191.48 L502.78,192.48 L502.93,193.49 L503.07,194.49 L503.22,195.50 L503.37,196.51 L503.52,197.52 L503.67,198.54 L503.81,199.56 L503.96,200.58 L504.11,201.60 L504.26,202.63 L504.40,203.65 L504.55,204.68 L504.70,205.70 L504.85,206.73 L505.00,207.75 L505.14,208.77 L505.29,209.79 L505.44,210.81 L505.59,211.81 L505.73,212.82 L505.88,213.81 L506.03,214.80 L506.18,215.78 L506.33,216.74 L506.47,217.69 L506.62,218.63 L506.77,219.56 L506.92,220.46 L507.07,221.35 L507.21,222.22 L507.36,223.07 L507.51,223.90 L507.66,224.71 L507.80,225.50 L507.95,226.26 L508.10,227.00 L508.25,227.71 L508.40,228.40 L508.54,229.05 L508.69,229.68 L508.84,230.28 L508.99,230.85 L509.13,231.39 L509.28,231.89 L509.43,232.35 L509.58,232.77 L509.73,233.16 L509.87,233.50 L510.02,233.80 L510.17,234.05 L510.32,234.26 L510.46,234.42 L510.61,234.53 L510.76,234.59 L510.91,234.59 L511.06,234.55 L511.20,234.45 L511.35,234.30 L511.50,234.10 L511.65,233.86 L511.80,233.58 L511.94,233.26 L512.09,232.90 L512.24,232.50 L512.39,232.06 L512.53,231.60 L512.68,231.10 L512.83,230.58 L512.98,230.03 L513.13,229.46 L513.27,228.87 L513.42,228.25 L513.57,227.62 L513.72,226.98 L513.86,226.32 L514.01,225.65 L514.16,224.97 L514.31,224.29 L514.46,223.60 L514.60,222.91 L514.75,222.22 L514.90,221.53 L515.05,220.84 L515.19,220.16 L515.34,219.49 L515.49,218.82 L515.64,218.17 L515.79,217.53 L515.93,216.91 L516.08,216.30 L516.23,215.71 L516.38,215.14 L516.53,214.60 L516.67,214.07 L516.82,213.58 L516.97,213.10 L517.12,212.66 L517.26,212.24 L517.41,211.85 L517.56,211.49 L517.71,211.16 L517.86,210.86 L518.00,210.59 L518.15,210.35 L518.30,210.14 L518.45,209.96 L518.59,209.81 L518.74,209.68 L518.89,209.59 L519.04,209.51 L519.19,209.47 L519.33,209.45 L519.48,209.45 L519.63,209.47 L519.78,209.51 L519.92,209.58 L520.07,209.65 L520.22,209.74 L520.37,209.85 L520.52,209.96 L520.66,210.08 L520.81,210.21 L520.96,210.34 L521.11,210.48 L521.26,210.61 L521.40,210.75 L521.55,210.88 L521.70,211.01 L521.85,211.13 L521.99,211.25 L522.14,211.37 L522.29,211.48 L522.44,211.59 L522.59,211.69 L522.73,211.78 L522.88,211.87 L523.03,211.96 L523.18,212.03 L523.32,212.10 L523.47,212.16 L523.62,212.22 L523.77,212.26 L523.92,212.30 L524.06,212.33 L524.21,212.34 L524.36,212.35 L524.51,212.36 L524.65,212.35 L524.80,212.33 L524.95,212.31 L525.10,212.29 L525.25,212.26 L525.39,212.22 L525.54,212.18 L525.69,212.14 L525.84,212.10 L525.99,212.05 L526.13,212.00 L526.28,211.96 L526.43,211.91 L526.58,211.87 L526.72,211.82 L526.87,211.78 L527.02,211.75 L527.17,211.71 L527.32,211.68 L527.46,211.65 L527.61,211.62 L527.76,211.59 L527.91,211.56 L528.05,211.54 L528.20,211.51 L528.35,211.48 L528.50,211.45 L528.65,211.41 L528.79,211.38 L528.94,211.34 L529.09,211.30 L529.24,211.26 L529.38,211.21 L529.53,211.16 L529.68,211.10 L529.83,211.04 L529.98,210.97 L530.12,210.89 L530.27,210.81 L530.42,210.73 L530.57,210.63 L530.72,210.53 L530.86,210.42 L531.01,210.30 L531.16,210.17 L531.31,210.04 L531.45,209.90 L531.60,209.75 L531.75,209.59 L531.90,209.43 L532.05,209.25 L532.19,209.07 L532.34,208.88 L532.49,208.69 L532.64,208.48 L532.78,208.27 L532.93,208.06 L533.08,207.84 L533.23,207.62 L533.38,207.39 L533.52,207.17 L533.67,206.94 L533.82,206.71 L533.97,206.48 L534.11,206.26 L534.26,206.04 L534.41,205.82 L534.56,205.60 L534.71,205.39 L534.85,205.18 L535.00,204.99 L535.15,204.80 L535.30,204.62 L535.45,204.45 L535.59,204.30 L535.74,204.16 L535.89,204.05 L536.04,203.94 L536.18,203.86 L536.33,203.80 L536.48,203.77 L536.63,203.76 L536.78,203.77 L536.92,203.81 L537.07,203.88 L537.22,203.97 L537.37,204.09 L537.51,204.22 L537.66,204.38 L537.81,204.55 L537.96,204.74 L538.11,204.95 L538.25,205.17 L538.40,205.41 L538.55,205.65 L538.70,205.91 L538.84,206.17 L538.99,206.44 L539.14,206.72 L539.29,207.00 L539.44,207.29 L539.58,207.58 L539.73,207.87 L539.88,208.16 L540.03,208.44 L540.18,208.73 L540.32,209.00 L540.47,209.28 L540.62,209.54 L540.77,209.80 L540.91,210.05 L541.06,210.29 L541.21,210.52 L541.36,210.74 L541.51,210.94 L541.65,211.14 L541.80,211.32 L541.95,211.49 L542.10,211.64 L542.24,211.78 L542.39,211.91 L542.54,212.02 L542.69,212.11 L542.84,212.19 L542.98,212.25 L543.13,212.29 L543.28,212.31 L543.43,212.32 L543.57,212.31 L543.72,212.28 L543.87,212.24 L544.02,212.19 L544.17,212.12 L544.31,212.03 L544.46,211.94 L544.61,211.83 L544.76,211.71 L544.91,211.58 L545.05,211.44 L545.20,211.29 L545.35,211.13 L545.50,210.97 L545.64,210.80 L545.79,210.62 L545.94,210.44 L546.09,210.25 L546.24,210.07 L546.38,209.88" fill="none" stroke="#ff7f0e" stroke-width="1.5" stroke-linejoin="round" stroke-linecap="round"/></g>
<rect x="310.1" y="143.0" width="235.60" height="95.80" fill="none" stroke="#484848" stroke-width="1.05"/>
<text x="310.00" y="140.70" font-size="9.6" font-family='"Liberation Serif", serif' fill="#222222" textLength="23.8" lengthAdjust="spacingAndGlyphs">×10<tspan dy="-3.1" font-size="6.91">−5</tspan></text>
<text x="0.00" y="0.00" font-size="9.7" text-anchor="middle" font-family='"Liberation Serif", serif' fill="#222222" textLength="72.8" lengthAdjust="spacingAndGlyphs" transform="translate(288.0,190.6) rotate(-90)">Vertical Signal [V]</text>
<text x="427.60" y="262.90" font-size="9.7" text-anchor="middle" font-family='"Liberation Serif", serif' fill="#222222" textLength="68.4" lengthAdjust="spacingAndGlyphs" >Diplacement [cm]</text>
<text x="283.40" y="145.20" font-size="16.8" text-anchor="start" font-family='"Liberation Sans", sans-serif' fill="#000" stroke="#000" stroke-width="0.12">(c)</text></svg></body></html>
